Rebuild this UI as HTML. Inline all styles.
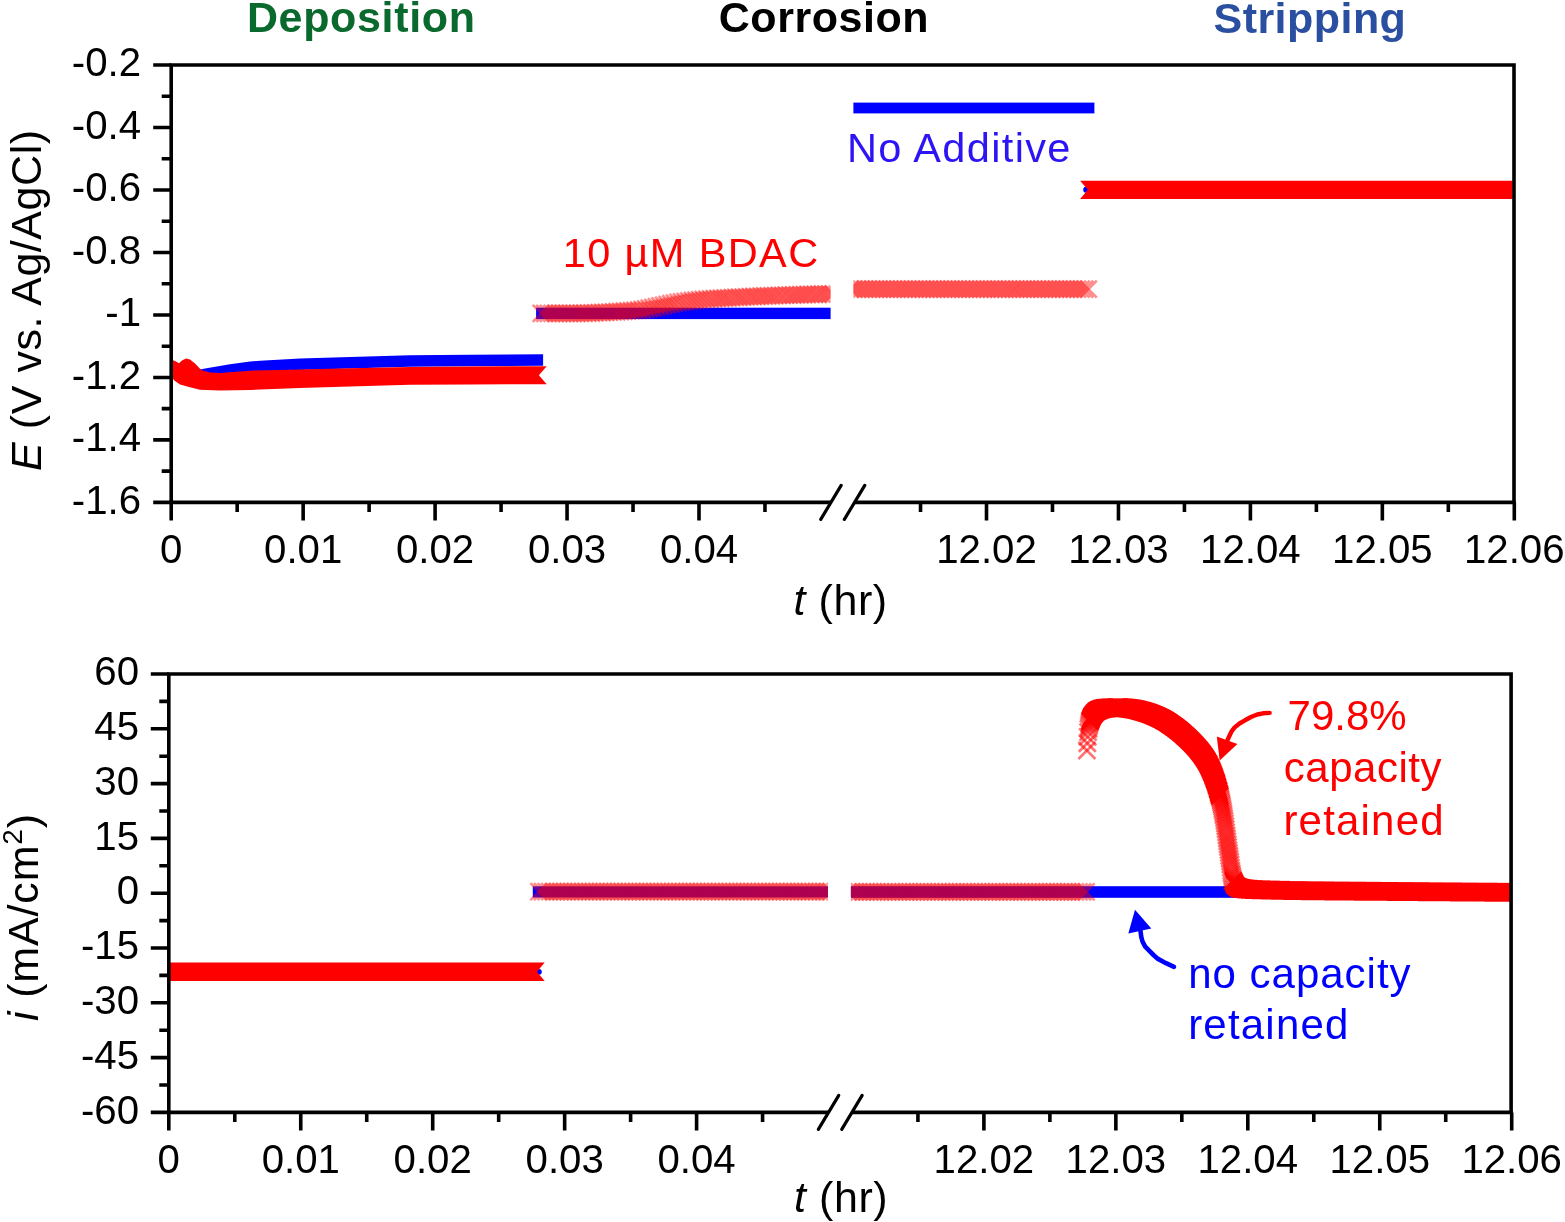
<!DOCTYPE html><html><head><meta charset="utf-8"><style>html,body{margin:0;padding:0;background:#fff;overflow:hidden;}svg{display:block;}text{font-family:"Liberation Sans", Arial, sans-serif;}</style></head><body>
<svg width="1565" height="1222" viewBox="0 0 1565 1222">
<rect width="1565" height="1222" fill="#fff"/>
<defs><clipPath id="ctl"><rect x="172" y="66" width="658.6" height="436"/></clipPath><clipPath id="ctr"><rect x="853.4" y="66" width="659.2" height="436"/></clipPath><clipPath id="cbl"><rect x="169.6" y="675" width="658.3" height="437"/></clipPath><clipPath id="cbr"><rect x="850.9" y="675" width="659.6" height="437"/></clipPath></defs>
<g clip-path="url(#ctl)">
<polygon points="185,372 195,370.5 205,368.6 230,364.2 250,361.5 260,360.7 300,358.6 350,357 410,355.3 470,354.7 543.1,354.3 543.1,365.8 470,366.2 410,366.8 350,368.5 300,370.1 260,372.2 250,373 230,375.7 205,380.1 195,382 185,383.5" fill="#0000ff"/>
<polygon points="166,359.7 171,359.7 175,361 179,363.3 182,360.5 186,358.4 190,359.5 195,363.5 201.5,370.2 210,372.4 220,373 250,370.7 300,369.4 350,368.2 410,367.1 470,366.5 546.7,366.2 538.9,375.2 546.7,384.2 470,384.4 410,384.8 350,386.4 300,388 260,389.5 250,390 220,390.6 200,389.7 190,387.2 180,384.6 175,381 171,377 166,375" fill="#ff0000"/>
<rect x="536.1" y="307.7" width="300" height="11.4" fill="#0000ff"/>
<g fill="none" stroke="#ff0000" stroke-width="2.6" stroke-opacity="0.45">
<path d="M532.7,304.9l17,17"/><path d="M549.7,304.9l-17,17"/>
<path d="M536.3,304.9l17,17"/><path d="M553.3,304.9l-17,17"/>
<path d="M539.9,304.9l17,17"/><path d="M556.9,304.9l-17,17"/>
<path d="M543.5,304.89l17,17"/><path d="M560.5,304.89l-17,17"/>
<path d="M547.1,304.89l17,17"/><path d="M564.1,304.89l-17,17"/>
<path d="M550.7,304.88l17,17"/><path d="M567.7,304.88l-17,17"/>
<path d="M554.3,304.87l17,17"/><path d="M571.3,304.87l-17,17"/>
<path d="M557.9,304.86l17,17"/><path d="M574.9,304.86l-17,17"/>
<path d="M561.5,304.85l17,17"/><path d="M578.5,304.85l-17,17"/>
<path d="M565.1,304.83l17,17"/><path d="M582.1,304.83l-17,17"/>
<path d="M568.7,304.81l17,17"/><path d="M585.7,304.81l-17,17"/>
<path d="M572.3,304.79l17,17"/><path d="M589.3,304.79l-17,17"/>
<path d="M575.9,304.73l17,17"/><path d="M592.9,304.73l-17,17"/>
<path d="M579.5,304.62l17,17"/><path d="M596.5,304.62l-17,17"/>
<path d="M583.1,304.48l17,17"/><path d="M600.1,304.48l-17,17"/>
<path d="M586.7,304.32l17,17"/><path d="M603.7,304.32l-17,17"/>
<path d="M590.3,304.15l17,17"/><path d="M607.3,304.15l-17,17"/>
<path d="M593.9,303.99l17,17"/><path d="M610.9,303.99l-17,17"/>
<path d="M597.5,303.82l17,17"/><path d="M614.5,303.82l-17,17"/>
<path d="M601.1,303.63l17,17"/><path d="M618.1,303.63l-17,17"/>
<path d="M604.7,303.43l17,17"/><path d="M621.7,303.43l-17,17"/>
<path d="M608.3,303.21l17,17"/><path d="M625.3,303.21l-17,17"/>
<path d="M611.9,302.97l17,17"/><path d="M628.9,302.97l-17,17"/>
<path d="M615.5,302.73l17,17"/><path d="M632.5,302.73l-17,17"/>
<path d="M619.1,302.47l17,17"/><path d="M636.1,302.47l-17,17"/>
<path d="M622.7,302.18l17,17"/><path d="M639.7,302.18l-17,17"/>
<path d="M626.3,301.85l17,17"/><path d="M643.3,301.85l-17,17"/>
<path d="M629.9,301.48l17,17"/><path d="M646.9,301.48l-17,17"/>
<path d="M633.5,301.04l17,17"/><path d="M650.5,301.04l-17,17"/>
<path d="M637.1,300.45l17,17"/><path d="M654.1,300.45l-17,17"/>
<path d="M640.7,299.75l17,17"/><path d="M657.7,299.75l-17,17"/>
<path d="M644.3,299l17,17"/><path d="M661.3,299l-17,17"/>
<path d="M647.9,298.23l17,17"/><path d="M664.9,298.23l-17,17"/>
<path d="M651.5,297.5l17,17"/><path d="M668.5,297.5l-17,17"/>
<path d="M655.1,296.78l17,17"/><path d="M672.1,296.78l-17,17"/>
<path d="M658.7,296.03l17,17"/><path d="M675.7,296.03l-17,17"/>
<path d="M662.3,295.28l17,17"/><path d="M679.3,295.28l-17,17"/>
<path d="M665.9,294.56l17,17"/><path d="M682.9,294.56l-17,17"/>
<path d="M669.5,293.92l17,17"/><path d="M686.5,293.92l-17,17"/>
<path d="M673.1,293.37l17,17"/><path d="M690.1,293.37l-17,17"/>
<path d="M676.7,292.86l17,17"/><path d="M693.7,292.86l-17,17"/>
<path d="M680.3,292.4l17,17"/><path d="M697.3,292.4l-17,17"/>
<path d="M683.9,291.97l17,17"/><path d="M700.9,291.97l-17,17"/>
<path d="M687.5,291.58l17,17"/><path d="M704.5,291.58l-17,17"/>
<path d="M691.1,291.24l17,17"/><path d="M708.1,291.24l-17,17"/>
<path d="M694.7,290.93l17,17"/><path d="M711.7,290.93l-17,17"/>
<path d="M698.3,290.66l17,17"/><path d="M715.3,290.66l-17,17"/>
<path d="M701.9,290.41l17,17"/><path d="M718.9,290.41l-17,17"/>
<path d="M705.5,290.17l17,17"/><path d="M722.5,290.17l-17,17"/>
<path d="M709.1,289.95l17,17"/><path d="M726.1,289.95l-17,17"/>
<path d="M712.7,289.73l17,17"/><path d="M729.7,289.73l-17,17"/>
<path d="M716.3,289.51l17,17"/><path d="M733.3,289.51l-17,17"/>
<path d="M719.9,289.31l17,17"/><path d="M736.9,289.31l-17,17"/>
<path d="M723.5,289.11l17,17"/><path d="M740.5,289.11l-17,17"/>
<path d="M727.1,288.92l17,17"/><path d="M744.1,288.92l-17,17"/>
<path d="M730.7,288.74l17,17"/><path d="M747.7,288.74l-17,17"/>
<path d="M734.3,288.56l17,17"/><path d="M751.3,288.56l-17,17"/>
<path d="M737.9,288.38l17,17"/><path d="M754.9,288.38l-17,17"/>
<path d="M741.5,288.2l17,17"/><path d="M758.5,288.2l-17,17"/>
<path d="M745.1,288.03l17,17"/><path d="M762.1,288.03l-17,17"/>
<path d="M748.7,287.85l17,17"/><path d="M765.7,287.85l-17,17"/>
<path d="M752.3,287.68l17,17"/><path d="M769.3,287.68l-17,17"/>
<path d="M755.9,287.52l17,17"/><path d="M772.9,287.52l-17,17"/>
<path d="M759.5,287.37l17,17"/><path d="M776.5,287.37l-17,17"/>
<path d="M763.1,287.22l17,17"/><path d="M780.1,287.22l-17,17"/>
<path d="M766.7,287.07l17,17"/><path d="M783.7,287.07l-17,17"/>
<path d="M770.3,286.94l17,17"/><path d="M787.3,286.94l-17,17"/>
<path d="M773.9,286.82l17,17"/><path d="M790.9,286.82l-17,17"/>
<path d="M777.5,286.7l17,17"/><path d="M794.5,286.7l-17,17"/>
<path d="M781.1,286.58l17,17"/><path d="M798.1,286.58l-17,17"/>
<path d="M784.7,286.46l17,17"/><path d="M801.7,286.46l-17,17"/>
<path d="M788.3,286.35l17,17"/><path d="M805.3,286.35l-17,17"/>
<path d="M791.9,286.24l17,17"/><path d="M808.9,286.24l-17,17"/>
<path d="M795.5,286.14l17,17"/><path d="M812.5,286.14l-17,17"/>
<path d="M799.1,286.03l17,17"/><path d="M816.1,286.03l-17,17"/>
<path d="M802.7,285.94l17,17"/><path d="M819.7,285.94l-17,17"/>
<path d="M806.3,285.85l17,17"/><path d="M823.3,285.85l-17,17"/>
<path d="M809.9,285.76l17,17"/><path d="M826.9,285.76l-17,17"/>
<path d="M813.5,285.68l17,17"/><path d="M830.5,285.68l-17,17"/>
<path d="M817.1,285.6l17,17"/><path d="M834.1,285.6l-17,17"/>
<path d="M820.7,285.53l17,17"/><path d="M837.7,285.53l-17,17"/>
<path d="M824.3,285.47l17,17"/><path d="M841.3,285.47l-17,17"/>
</g>
</g>
<g clip-path="url(#ctr)">
<rect x="850" y="102.6" width="244.4" height="10.8" fill="#0000ff"/>
<g fill="none" stroke="#ff0000" stroke-width="2.6" stroke-opacity="0.45">
<path d="M842.2,280.6l17,17"/><path d="M859.2,280.6l-17,17"/>
<path d="M845.8,280.6l17,17"/><path d="M862.8,280.6l-17,17"/>
<path d="M849.4,280.6l17,17"/><path d="M866.4,280.6l-17,17"/>
<path d="M853,280.6l17,17"/><path d="M870,280.6l-17,17"/>
<path d="M856.6,280.6l17,17"/><path d="M873.6,280.6l-17,17"/>
<path d="M860.2,280.6l17,17"/><path d="M877.2,280.6l-17,17"/>
<path d="M863.8,280.6l17,17"/><path d="M880.8,280.6l-17,17"/>
<path d="M867.4,280.6l17,17"/><path d="M884.4,280.6l-17,17"/>
<path d="M871,280.6l17,17"/><path d="M888,280.6l-17,17"/>
<path d="M874.6,280.6l17,17"/><path d="M891.6,280.6l-17,17"/>
<path d="M878.2,280.6l17,17"/><path d="M895.2,280.6l-17,17"/>
<path d="M881.8,280.6l17,17"/><path d="M898.8,280.6l-17,17"/>
<path d="M885.4,280.6l17,17"/><path d="M902.4,280.6l-17,17"/>
<path d="M889,280.6l17,17"/><path d="M906,280.6l-17,17"/>
<path d="M892.6,280.6l17,17"/><path d="M909.6,280.6l-17,17"/>
<path d="M896.2,280.6l17,17"/><path d="M913.2,280.6l-17,17"/>
<path d="M899.8,280.6l17,17"/><path d="M916.8,280.6l-17,17"/>
<path d="M903.4,280.6l17,17"/><path d="M920.4,280.6l-17,17"/>
<path d="M907,280.6l17,17"/><path d="M924,280.6l-17,17"/>
<path d="M910.6,280.6l17,17"/><path d="M927.6,280.6l-17,17"/>
<path d="M914.2,280.6l17,17"/><path d="M931.2,280.6l-17,17"/>
<path d="M917.8,280.6l17,17"/><path d="M934.8,280.6l-17,17"/>
<path d="M921.4,280.6l17,17"/><path d="M938.4,280.6l-17,17"/>
<path d="M925,280.6l17,17"/><path d="M942,280.6l-17,17"/>
<path d="M928.6,280.6l17,17"/><path d="M945.6,280.6l-17,17"/>
<path d="M932.2,280.6l17,17"/><path d="M949.2,280.6l-17,17"/>
<path d="M935.8,280.6l17,17"/><path d="M952.8,280.6l-17,17"/>
<path d="M939.4,280.6l17,17"/><path d="M956.4,280.6l-17,17"/>
<path d="M943,280.6l17,17"/><path d="M960,280.6l-17,17"/>
<path d="M946.6,280.6l17,17"/><path d="M963.6,280.6l-17,17"/>
<path d="M950.2,280.6l17,17"/><path d="M967.2,280.6l-17,17"/>
<path d="M953.8,280.6l17,17"/><path d="M970.8,280.6l-17,17"/>
<path d="M957.4,280.6l17,17"/><path d="M974.4,280.6l-17,17"/>
<path d="M961,280.6l17,17"/><path d="M978,280.6l-17,17"/>
<path d="M964.6,280.6l17,17"/><path d="M981.6,280.6l-17,17"/>
<path d="M968.2,280.6l17,17"/><path d="M985.2,280.6l-17,17"/>
<path d="M971.8,280.6l17,17"/><path d="M988.8,280.6l-17,17"/>
<path d="M975.4,280.6l17,17"/><path d="M992.4,280.6l-17,17"/>
<path d="M979,280.6l17,17"/><path d="M996,280.6l-17,17"/>
<path d="M982.6,280.6l17,17"/><path d="M999.6,280.6l-17,17"/>
<path d="M986.2,280.6l17,17"/><path d="M1003.2,280.6l-17,17"/>
<path d="M989.8,280.6l17,17"/><path d="M1006.8,280.6l-17,17"/>
<path d="M993.4,280.6l17,17"/><path d="M1010.4,280.6l-17,17"/>
<path d="M997,280.6l17,17"/><path d="M1014,280.6l-17,17"/>
<path d="M1000.6,280.6l17,17"/><path d="M1017.6,280.6l-17,17"/>
<path d="M1004.2,280.6l17,17"/><path d="M1021.2,280.6l-17,17"/>
<path d="M1007.8,280.6l17,17"/><path d="M1024.8,280.6l-17,17"/>
<path d="M1011.4,280.6l17,17"/><path d="M1028.4,280.6l-17,17"/>
<path d="M1015,280.6l17,17"/><path d="M1032,280.6l-17,17"/>
<path d="M1018.6,280.6l17,17"/><path d="M1035.6,280.6l-17,17"/>
<path d="M1022.2,280.6l17,17"/><path d="M1039.2,280.6l-17,17"/>
<path d="M1025.8,280.6l17,17"/><path d="M1042.8,280.6l-17,17"/>
<path d="M1029.4,280.6l17,17"/><path d="M1046.4,280.6l-17,17"/>
<path d="M1033,280.6l17,17"/><path d="M1050,280.6l-17,17"/>
<path d="M1036.6,280.6l17,17"/><path d="M1053.6,280.6l-17,17"/>
<path d="M1040.2,280.6l17,17"/><path d="M1057.2,280.6l-17,17"/>
<path d="M1043.8,280.6l17,17"/><path d="M1060.8,280.6l-17,17"/>
<path d="M1047.4,280.6l17,17"/><path d="M1064.4,280.6l-17,17"/>
<path d="M1051,280.6l17,17"/><path d="M1068,280.6l-17,17"/>
<path d="M1054.6,280.6l17,17"/><path d="M1071.6,280.6l-17,17"/>
<path d="M1058.2,280.6l17,17"/><path d="M1075.2,280.6l-17,17"/>
<path d="M1061.8,280.6l17,17"/><path d="M1078.8,280.6l-17,17"/>
<path d="M1065.4,280.6l17,17"/><path d="M1082.4,280.6l-17,17"/>
<path d="M1069,280.6l17,17"/><path d="M1086,280.6l-17,17"/>
<path d="M1072.6,280.6l17,17"/><path d="M1089.6,280.6l-17,17"/>
<path d="M1076.2,280.6l17,17"/><path d="M1093.2,280.6l-17,17"/>
<path d="M1079.8,280.6l17,17"/><path d="M1096.8,280.6l-17,17"/>
</g>
<circle cx="1086.2" cy="189.8" r="3" fill="#0000ff"/>
<polygon points="1080.1,199.05 1087.9,189.85 1080.1,180.65 1530,180.65 1530,199.05" fill="#ff0000"/>
</g>
<g clip-path="url(#cbl)">
<circle cx="538.9" cy="971.8" r="2.9" fill="#0000ff"/>
<polygon points="150,980.9 150,962.5 544.7,962.5 536.9,971.7 544.7,980.9" fill="#ff0000"/>
<rect x="532.8" y="886.3" width="300" height="11.2" fill="#0000ff"/>
<g fill="none" stroke="#ff0000" stroke-width="2.6" stroke-opacity="0.45">
<path d="M530.4,883.2l17,17"/><path d="M547.4,883.2l-17,17"/>
<path d="M534,883.2l17,17"/><path d="M551,883.2l-17,17"/>
<path d="M537.6,883.2l17,17"/><path d="M554.6,883.2l-17,17"/>
<path d="M541.2,883.2l17,17"/><path d="M558.2,883.2l-17,17"/>
<path d="M544.8,883.2l17,17"/><path d="M561.8,883.2l-17,17"/>
<path d="M548.4,883.2l17,17"/><path d="M565.4,883.2l-17,17"/>
<path d="M552,883.2l17,17"/><path d="M569,883.2l-17,17"/>
<path d="M555.6,883.2l17,17"/><path d="M572.6,883.2l-17,17"/>
<path d="M559.2,883.2l17,17"/><path d="M576.2,883.2l-17,17"/>
<path d="M562.8,883.2l17,17"/><path d="M579.8,883.2l-17,17"/>
<path d="M566.4,883.2l17,17"/><path d="M583.4,883.2l-17,17"/>
<path d="M570,883.2l17,17"/><path d="M587,883.2l-17,17"/>
<path d="M573.6,883.2l17,17"/><path d="M590.6,883.2l-17,17"/>
<path d="M577.2,883.2l17,17"/><path d="M594.2,883.2l-17,17"/>
<path d="M580.8,883.2l17,17"/><path d="M597.8,883.2l-17,17"/>
<path d="M584.4,883.2l17,17"/><path d="M601.4,883.2l-17,17"/>
<path d="M588,883.2l17,17"/><path d="M605,883.2l-17,17"/>
<path d="M591.6,883.2l17,17"/><path d="M608.6,883.2l-17,17"/>
<path d="M595.2,883.2l17,17"/><path d="M612.2,883.2l-17,17"/>
<path d="M598.8,883.2l17,17"/><path d="M615.8,883.2l-17,17"/>
<path d="M602.4,883.2l17,17"/><path d="M619.4,883.2l-17,17"/>
<path d="M606,883.2l17,17"/><path d="M623,883.2l-17,17"/>
<path d="M609.6,883.2l17,17"/><path d="M626.6,883.2l-17,17"/>
<path d="M613.2,883.2l17,17"/><path d="M630.2,883.2l-17,17"/>
<path d="M616.8,883.2l17,17"/><path d="M633.8,883.2l-17,17"/>
<path d="M620.4,883.2l17,17"/><path d="M637.4,883.2l-17,17"/>
<path d="M624,883.2l17,17"/><path d="M641,883.2l-17,17"/>
<path d="M627.6,883.2l17,17"/><path d="M644.6,883.2l-17,17"/>
<path d="M631.2,883.2l17,17"/><path d="M648.2,883.2l-17,17"/>
<path d="M634.8,883.2l17,17"/><path d="M651.8,883.2l-17,17"/>
<path d="M638.4,883.2l17,17"/><path d="M655.4,883.2l-17,17"/>
<path d="M642,883.2l17,17"/><path d="M659,883.2l-17,17"/>
<path d="M645.6,883.2l17,17"/><path d="M662.6,883.2l-17,17"/>
<path d="M649.2,883.2l17,17"/><path d="M666.2,883.2l-17,17"/>
<path d="M652.8,883.2l17,17"/><path d="M669.8,883.2l-17,17"/>
<path d="M656.4,883.2l17,17"/><path d="M673.4,883.2l-17,17"/>
<path d="M660,883.2l17,17"/><path d="M677,883.2l-17,17"/>
<path d="M663.6,883.2l17,17"/><path d="M680.6,883.2l-17,17"/>
<path d="M667.2,883.2l17,17"/><path d="M684.2,883.2l-17,17"/>
<path d="M670.8,883.2l17,17"/><path d="M687.8,883.2l-17,17"/>
<path d="M674.4,883.2l17,17"/><path d="M691.4,883.2l-17,17"/>
<path d="M678,883.2l17,17"/><path d="M695,883.2l-17,17"/>
<path d="M681.6,883.2l17,17"/><path d="M698.6,883.2l-17,17"/>
<path d="M685.2,883.2l17,17"/><path d="M702.2,883.2l-17,17"/>
<path d="M688.8,883.2l17,17"/><path d="M705.8,883.2l-17,17"/>
<path d="M692.4,883.2l17,17"/><path d="M709.4,883.2l-17,17"/>
<path d="M696,883.2l17,17"/><path d="M713,883.2l-17,17"/>
<path d="M699.6,883.2l17,17"/><path d="M716.6,883.2l-17,17"/>
<path d="M703.2,883.2l17,17"/><path d="M720.2,883.2l-17,17"/>
<path d="M706.8,883.2l17,17"/><path d="M723.8,883.2l-17,17"/>
<path d="M710.4,883.2l17,17"/><path d="M727.4,883.2l-17,17"/>
<path d="M714,883.2l17,17"/><path d="M731,883.2l-17,17"/>
<path d="M717.6,883.2l17,17"/><path d="M734.6,883.2l-17,17"/>
<path d="M721.2,883.2l17,17"/><path d="M738.2,883.2l-17,17"/>
<path d="M724.8,883.2l17,17"/><path d="M741.8,883.2l-17,17"/>
<path d="M728.4,883.2l17,17"/><path d="M745.4,883.2l-17,17"/>
<path d="M732,883.2l17,17"/><path d="M749,883.2l-17,17"/>
<path d="M735.6,883.2l17,17"/><path d="M752.6,883.2l-17,17"/>
<path d="M739.2,883.2l17,17"/><path d="M756.2,883.2l-17,17"/>
<path d="M742.8,883.2l17,17"/><path d="M759.8,883.2l-17,17"/>
<path d="M746.4,883.2l17,17"/><path d="M763.4,883.2l-17,17"/>
<path d="M750,883.2l17,17"/><path d="M767,883.2l-17,17"/>
<path d="M753.6,883.2l17,17"/><path d="M770.6,883.2l-17,17"/>
<path d="M757.2,883.2l17,17"/><path d="M774.2,883.2l-17,17"/>
<path d="M760.8,883.2l17,17"/><path d="M777.8,883.2l-17,17"/>
<path d="M764.4,883.2l17,17"/><path d="M781.4,883.2l-17,17"/>
<path d="M768,883.2l17,17"/><path d="M785,883.2l-17,17"/>
<path d="M771.6,883.2l17,17"/><path d="M788.6,883.2l-17,17"/>
<path d="M775.2,883.2l17,17"/><path d="M792.2,883.2l-17,17"/>
<path d="M778.8,883.2l17,17"/><path d="M795.8,883.2l-17,17"/>
<path d="M782.4,883.2l17,17"/><path d="M799.4,883.2l-17,17"/>
<path d="M786,883.2l17,17"/><path d="M803,883.2l-17,17"/>
<path d="M789.6,883.2l17,17"/><path d="M806.6,883.2l-17,17"/>
<path d="M793.2,883.2l17,17"/><path d="M810.2,883.2l-17,17"/>
<path d="M796.8,883.2l17,17"/><path d="M813.8,883.2l-17,17"/>
<path d="M800.4,883.2l17,17"/><path d="M817.4,883.2l-17,17"/>
<path d="M804,883.2l17,17"/><path d="M821,883.2l-17,17"/>
<path d="M807.6,883.2l17,17"/><path d="M824.6,883.2l-17,17"/>
<path d="M811.2,883.2l17,17"/><path d="M828.2,883.2l-17,17"/>
<path d="M814.8,883.2l17,17"/><path d="M831.8,883.2l-17,17"/>
<path d="M818.4,883.2l17,17"/><path d="M835.4,883.2l-17,17"/>
<path d="M822,883.2l17,17"/><path d="M839,883.2l-17,17"/>
</g>
</g>
<g clip-path="url(#cbr)">
<rect x="848" y="886.2" width="390" height="11.6" fill="#0000ff"/>
<g fill="none" stroke="#ff0000" stroke-width="2.6" stroke-opacity="0.45">
<path d="M840,883.3l17,17"/><path d="M857,883.3l-17,17"/>
<path d="M843.6,883.3l17,17"/><path d="M860.6,883.3l-17,17"/>
<path d="M847.2,883.3l17,17"/><path d="M864.2,883.3l-17,17"/>
<path d="M850.8,883.3l17,17"/><path d="M867.8,883.3l-17,17"/>
<path d="M854.4,883.3l17,17"/><path d="M871.4,883.3l-17,17"/>
<path d="M858,883.3l17,17"/><path d="M875,883.3l-17,17"/>
<path d="M861.6,883.3l17,17"/><path d="M878.6,883.3l-17,17"/>
<path d="M865.2,883.3l17,17"/><path d="M882.2,883.3l-17,17"/>
<path d="M868.8,883.3l17,17"/><path d="M885.8,883.3l-17,17"/>
<path d="M872.4,883.3l17,17"/><path d="M889.4,883.3l-17,17"/>
<path d="M876,883.3l17,17"/><path d="M893,883.3l-17,17"/>
<path d="M879.6,883.3l17,17"/><path d="M896.6,883.3l-17,17"/>
<path d="M883.2,883.3l17,17"/><path d="M900.2,883.3l-17,17"/>
<path d="M886.8,883.3l17,17"/><path d="M903.8,883.3l-17,17"/>
<path d="M890.4,883.3l17,17"/><path d="M907.4,883.3l-17,17"/>
<path d="M894,883.3l17,17"/><path d="M911,883.3l-17,17"/>
<path d="M897.6,883.3l17,17"/><path d="M914.6,883.3l-17,17"/>
<path d="M901.2,883.3l17,17"/><path d="M918.2,883.3l-17,17"/>
<path d="M904.8,883.3l17,17"/><path d="M921.8,883.3l-17,17"/>
<path d="M908.4,883.3l17,17"/><path d="M925.4,883.3l-17,17"/>
<path d="M912,883.3l17,17"/><path d="M929,883.3l-17,17"/>
<path d="M915.6,883.3l17,17"/><path d="M932.6,883.3l-17,17"/>
<path d="M919.2,883.3l17,17"/><path d="M936.2,883.3l-17,17"/>
<path d="M922.8,883.3l17,17"/><path d="M939.8,883.3l-17,17"/>
<path d="M926.4,883.3l17,17"/><path d="M943.4,883.3l-17,17"/>
<path d="M930,883.3l17,17"/><path d="M947,883.3l-17,17"/>
<path d="M933.6,883.3l17,17"/><path d="M950.6,883.3l-17,17"/>
<path d="M937.2,883.3l17,17"/><path d="M954.2,883.3l-17,17"/>
<path d="M940.8,883.3l17,17"/><path d="M957.8,883.3l-17,17"/>
<path d="M944.4,883.3l17,17"/><path d="M961.4,883.3l-17,17"/>
<path d="M948,883.3l17,17"/><path d="M965,883.3l-17,17"/>
<path d="M951.6,883.3l17,17"/><path d="M968.6,883.3l-17,17"/>
<path d="M955.2,883.3l17,17"/><path d="M972.2,883.3l-17,17"/>
<path d="M958.8,883.3l17,17"/><path d="M975.8,883.3l-17,17"/>
<path d="M962.4,883.3l17,17"/><path d="M979.4,883.3l-17,17"/>
<path d="M966,883.3l17,17"/><path d="M983,883.3l-17,17"/>
<path d="M969.6,883.3l17,17"/><path d="M986.6,883.3l-17,17"/>
<path d="M973.2,883.3l17,17"/><path d="M990.2,883.3l-17,17"/>
<path d="M976.8,883.3l17,17"/><path d="M993.8,883.3l-17,17"/>
<path d="M980.4,883.3l17,17"/><path d="M997.4,883.3l-17,17"/>
<path d="M984,883.3l17,17"/><path d="M1001,883.3l-17,17"/>
<path d="M987.6,883.3l17,17"/><path d="M1004.6,883.3l-17,17"/>
<path d="M991.2,883.3l17,17"/><path d="M1008.2,883.3l-17,17"/>
<path d="M994.8,883.3l17,17"/><path d="M1011.8,883.3l-17,17"/>
<path d="M998.4,883.3l17,17"/><path d="M1015.4,883.3l-17,17"/>
<path d="M1002,883.3l17,17"/><path d="M1019,883.3l-17,17"/>
<path d="M1005.6,883.3l17,17"/><path d="M1022.6,883.3l-17,17"/>
<path d="M1009.2,883.3l17,17"/><path d="M1026.2,883.3l-17,17"/>
<path d="M1012.8,883.3l17,17"/><path d="M1029.8,883.3l-17,17"/>
<path d="M1016.4,883.3l17,17"/><path d="M1033.4,883.3l-17,17"/>
<path d="M1020,883.3l17,17"/><path d="M1037,883.3l-17,17"/>
<path d="M1023.6,883.3l17,17"/><path d="M1040.6,883.3l-17,17"/>
<path d="M1027.2,883.3l17,17"/><path d="M1044.2,883.3l-17,17"/>
<path d="M1030.8,883.3l17,17"/><path d="M1047.8,883.3l-17,17"/>
<path d="M1034.4,883.3l17,17"/><path d="M1051.4,883.3l-17,17"/>
<path d="M1038,883.3l17,17"/><path d="M1055,883.3l-17,17"/>
<path d="M1041.6,883.3l17,17"/><path d="M1058.6,883.3l-17,17"/>
<path d="M1045.2,883.3l17,17"/><path d="M1062.2,883.3l-17,17"/>
<path d="M1048.8,883.3l17,17"/><path d="M1065.8,883.3l-17,17"/>
<path d="M1052.4,883.3l17,17"/><path d="M1069.4,883.3l-17,17"/>
<path d="M1056,883.3l17,17"/><path d="M1073,883.3l-17,17"/>
<path d="M1059.6,883.3l17,17"/><path d="M1076.6,883.3l-17,17"/>
<path d="M1063.2,883.3l17,17"/><path d="M1080.2,883.3l-17,17"/>
<path d="M1066.8,883.3l17,17"/><path d="M1083.8,883.3l-17,17"/>
<path d="M1070.4,883.3l17,17"/><path d="M1087.4,883.3l-17,17"/>
<path d="M1074,883.3l17,17"/><path d="M1091,883.3l-17,17"/>
<path d="M1077.6,883.3l17,17"/><path d="M1094.6,883.3l-17,17"/>
</g>
<path d="M1081.6,712.74l17,17m0,-17l-17,17M1082,711.5l17,17m0,-17l-17,17M1082.4,710.46l17,17m0,-17l-17,17M1082.8,709.52l17,17m0,-17l-17,17M1083.2,708.67l17,17m0,-17l-17,17M1083.6,707.91l17,17m0,-17l-17,17M1084,707.24l17,17m0,-17l-17,17M1084.4,706.64l17,17m0,-17l-17,17M1084.8,706.1l17,17m0,-17l-17,17M1085.2,705.58l17,17m0,-17l-17,17M1085.6,705.08l17,17m0,-17l-17,17M1086,704.62l17,17m0,-17l-17,17M1086.4,704.19l17,17m0,-17l-17,17M1086.8,703.79l17,17m0,-17l-17,17M1087.2,703.42l17,17m0,-17l-17,17M1087.6,703.09l17,17m0,-17l-17,17M1088,702.8l17,17m0,-17l-17,17M1088.4,702.55l17,17m0,-17l-17,17M1088.8,702.34l17,17m0,-17l-17,17M1089.2,702.14l17,17m0,-17l-17,17M1089.6,701.94l17,17m0,-17l-17,17M1090,701.75l17,17m0,-17l-17,17M1090.4,701.56l17,17m0,-17l-17,17M1090.8,701.39l17,17m0,-17l-17,17M1091.2,701.22l17,17m0,-17l-17,17M1091.6,701.06l17,17m0,-17l-17,17M1092,700.91l17,17m0,-17l-17,17M1092.4,700.76l17,17m0,-17l-17,17M1092.8,700.62l17,17m0,-17l-17,17M1093.2,700.5l17,17m0,-17l-17,17M1093.6,700.38l17,17m0,-17l-17,17M1094,700.27l17,17m0,-17l-17,17M1094.4,700.17l17,17m0,-17l-17,17M1094.8,700.08l17,17m0,-17l-17,17M1095.2,700l17,17m0,-17l-17,17M1095.6,699.92l17,17m0,-17l-17,17M1096,699.86l17,17m0,-17l-17,17M1096.4,699.81l17,17m0,-17l-17,17M1096.8,699.77l17,17m0,-17l-17,17M1097.2,699.72l17,17m0,-17l-17,17M1097.6,699.68l17,17m0,-17l-17,17M1098,699.64l17,17m0,-17l-17,17M1098.4,699.6l17,17m0,-17l-17,17M1098.8,699.56l17,17m0,-17l-17,17M1099.2,699.52l17,17m0,-17l-17,17M1099.6,699.49l17,17m0,-17l-17,17M1100,699.45l17,17m0,-17l-17,17M1100.4,699.42l17,17m0,-17l-17,17M1100.8,699.38l17,17m0,-17l-17,17M1101.2,699.35l17,17m0,-17l-17,17M1101.6,699.32l17,17m0,-17l-17,17M1102,699.29l17,17m0,-17l-17,17M1102.4,699.26l17,17m0,-17l-17,17M1102.8,699.23l17,17m0,-17l-17,17M1103.2,699.21l17,17m0,-17l-17,17M1103.6,699.18l17,17m0,-17l-17,17M1104,699.16l17,17m0,-17l-17,17M1104.4,699.14l17,17m0,-17l-17,17M1104.8,699.12l17,17m0,-17l-17,17M1105.2,699.1l17,17m0,-17l-17,17M1105.6,699.08l17,17m0,-17l-17,17M1106,699.07l17,17m0,-17l-17,17M1106.4,699.05l17,17m0,-17l-17,17M1106.8,699.04l17,17m0,-17l-17,17M1107.2,699.03l17,17m0,-17l-17,17M1107.6,699.02l17,17m0,-17l-17,17M1108,699.01l17,17m0,-17l-17,17M1108.4,699.01l17,17m0,-17l-17,17M1108.8,699l17,17m0,-17l-17,17M1109.2,699l17,17m0,-17l-17,17M1109.6,699l17,17m0,-17l-17,17M1110,699l17,17m0,-17l-17,17M1110.4,699.01l17,17m0,-17l-17,17M1110.8,699.02l17,17m0,-17l-17,17M1111.2,699.03l17,17m0,-17l-17,17M1111.6,699.04l17,17m0,-17l-17,17M1112,699.06l17,17m0,-17l-17,17M1112.4,699.08l17,17m0,-17l-17,17M1112.8,699.11l17,17m0,-17l-17,17M1113.2,699.13l17,17m0,-17l-17,17M1113.6,699.16l17,17m0,-17l-17,17M1114,699.19l17,17m0,-17l-17,17M1114.4,699.22l17,17m0,-17l-17,17M1114.8,699.26l17,17m0,-17l-17,17M1115.2,699.29l17,17m0,-17l-17,17M1115.6,699.33l17,17m0,-17l-17,17M1116,699.37l17,17m0,-17l-17,17M1116.4,699.41l17,17m0,-17l-17,17M1116.8,699.45l17,17m0,-17l-17,17M1117.2,699.49l17,17m0,-17l-17,17M1117.6,699.54l17,17m0,-17l-17,17M1118,699.58l17,17m0,-17l-17,17M1118.4,699.63l17,17m0,-17l-17,17M1118.8,699.68l17,17m0,-17l-17,17M1119.2,699.72l17,17m0,-17l-17,17M1119.6,699.77l17,17m0,-17l-17,17M1120,699.82l17,17m0,-17l-17,17M1120.4,699.87l17,17m0,-17l-17,17M1120.8,699.92l17,17m0,-17l-17,17M1121.2,699.96l17,17m0,-17l-17,17M1121.6,700.01l17,17m0,-17l-17,17M1122,700.06l17,17m0,-17l-17,17M1122.4,700.12l17,17m0,-17l-17,17M1122.8,700.17l17,17m0,-17l-17,17M1123.2,700.24l17,17m0,-17l-17,17M1123.6,700.3l17,17m0,-17l-17,17M1124,700.37l17,17m0,-17l-17,17M1124.4,700.44l17,17m0,-17l-17,17M1124.8,700.51l17,17m0,-17l-17,17M1125.2,700.58l17,17m0,-17l-17,17M1125.6,700.66l17,17m0,-17l-17,17M1126,700.74l17,17m0,-17l-17,17M1126.4,700.83l17,17m0,-17l-17,17M1126.8,700.91l17,17m0,-17l-17,17M1127.2,701l17,17m0,-17l-17,17M1127.6,701.09l17,17m0,-17l-17,17M1128,701.18l17,17m0,-17l-17,17M1128.4,701.28l17,17m0,-17l-17,17M1128.8,701.37l17,17m0,-17l-17,17M1129.2,701.47l17,17m0,-17l-17,17M1129.6,701.57l17,17m0,-17l-17,17M1130,701.68l17,17m0,-17l-17,17M1130.4,701.78l17,17m0,-17l-17,17M1130.8,701.88l17,17m0,-17l-17,17M1131.2,701.99l17,17m0,-17l-17,17M1131.6,702.1l17,17m0,-17l-17,17M1132,702.21l17,17m0,-17l-17,17M1132.4,702.32l17,17m0,-17l-17,17M1132.8,702.43l17,17m0,-17l-17,17M1133.2,702.54l17,17m0,-17l-17,17M1133.6,702.66l17,17m0,-17l-17,17M1134,702.77l17,17m0,-17l-17,17M1134.4,702.89l17,17m0,-17l-17,17M1134.8,703l17,17m0,-17l-17,17M1135.2,703.12l17,17m0,-17l-17,17M1135.6,703.24l17,17m0,-17l-17,17M1136,703.35l17,17m0,-17l-17,17M1136.4,703.47l17,17m0,-17l-17,17M1136.8,703.59l17,17m0,-17l-17,17M1137.2,703.71l17,17m0,-17l-17,17M1137.6,703.83l17,17m0,-17l-17,17M1138,703.96l17,17m0,-17l-17,17M1138.4,704.09l17,17m0,-17l-17,17M1138.8,704.22l17,17m0,-17l-17,17M1139.2,704.35l17,17m0,-17l-17,17M1139.6,704.49l17,17m0,-17l-17,17M1140,704.63l17,17m0,-17l-17,17M1140.4,704.77l17,17m0,-17l-17,17M1140.8,704.91l17,17m0,-17l-17,17M1141.2,705.06l17,17m0,-17l-17,17M1141.6,705.2l17,17m0,-17l-17,17M1142,705.35l17,17m0,-17l-17,17M1142.4,705.5l17,17m0,-17l-17,17M1142.8,705.66l17,17m0,-17l-17,17M1143.2,705.81l17,17m0,-17l-17,17M1143.6,705.97l17,17m0,-17l-17,17M1144,706.13l17,17m0,-17l-17,17M1144.4,706.3l17,17m0,-17l-17,17M1144.8,706.46l17,17m0,-17l-17,17M1145.2,706.63l17,17m0,-17l-17,17M1145.6,706.8l17,17m0,-17l-17,17M1146,706.97l17,17m0,-17l-17,17M1146.4,707.14l17,17m0,-17l-17,17M1146.8,707.31l17,17m0,-17l-17,17M1147.2,707.49l17,17m0,-17l-17,17M1147.6,707.67l17,17m0,-17l-17,17M1148,707.85l17,17m0,-17l-17,17M1148.4,708.03l17,17m0,-17l-17,17M1148.8,708.21l17,17m0,-17l-17,17M1149.2,708.4l17,17m0,-17l-17,17M1149.6,708.59l17,17m0,-17l-17,17M1150,708.78l17,17m0,-17l-17,17M1150.4,708.97l17,17m0,-17l-17,17M1150.8,709.16l17,17m0,-17l-17,17M1151.2,709.35l17,17m0,-17l-17,17M1151.6,709.55l17,17m0,-17l-17,17M1152,709.75l17,17m0,-17l-17,17M1152.4,709.95l17,17m0,-17l-17,17M1152.8,710.16l17,17m0,-17l-17,17M1153.2,710.37l17,17m0,-17l-17,17M1153.6,710.58l17,17m0,-17l-17,17M1154,710.8l17,17m0,-17l-17,17M1154.4,711.02l17,17m0,-17l-17,17M1154.8,711.25l17,17m0,-17l-17,17M1155.2,711.48l17,17m0,-17l-17,17M1155.6,711.71l17,17m0,-17l-17,17M1156,711.94l17,17m0,-17l-17,17M1156.4,712.18l17,17m0,-17l-17,17M1156.8,712.42l17,17m0,-17l-17,17M1157.2,712.66l17,17m0,-17l-17,17M1157.6,712.91l17,17m0,-17l-17,17M1158,713.16l17,17m0,-17l-17,17M1158.4,713.41l17,17m0,-17l-17,17M1158.8,713.67l17,17m0,-17l-17,17M1159.2,713.93l17,17m0,-17l-17,17M1159.6,714.19l17,17m0,-17l-17,17M1160,714.45l17,17m0,-17l-17,17M1160.4,714.71l17,17m0,-17l-17,17M1160.8,714.98l17,17m0,-17l-17,17M1161.2,715.25l17,17m0,-17l-17,17M1161.6,715.52l17,17m0,-17l-17,17M1162,715.8l17,17m0,-17l-17,17M1162.4,716.07l17,17m0,-17l-17,17M1162.8,716.35l17,17m0,-17l-17,17M1163.2,716.63l17,17m0,-17l-17,17M1163.6,716.91l17,17m0,-17l-17,17M1164,717.2l17,17m0,-17l-17,17M1164.4,717.48l17,17m0,-17l-17,17M1164.8,717.77l17,17m0,-17l-17,17M1165.2,718.06l17,17m0,-17l-17,17M1165.6,718.34l17,17m0,-17l-17,17M1166,718.63l17,17m0,-17l-17,17M1166.4,718.93l17,17m0,-17l-17,17M1166.8,719.22l17,17m0,-17l-17,17M1167.2,719.52l17,17m0,-17l-17,17M1167.6,719.82l17,17m0,-17l-17,17M1168,720.12l17,17m0,-17l-17,17M1168.4,720.43l17,17m0,-17l-17,17M1168.8,720.74l17,17m0,-17l-17,17M1169.2,721.05l17,17m0,-17l-17,17M1169.6,721.37l17,17m0,-17l-17,17M1170,721.69l17,17m0,-17l-17,17M1170.4,722.01l17,17m0,-17l-17,17M1170.8,722.33l17,17m0,-17l-17,17M1171.2,722.66l17,17m0,-17l-17,17M1171.6,722.99l17,17m0,-17l-17,17M1172,723.33l17,17m0,-17l-17,17M1172.4,723.66l17,17m0,-17l-17,17M1172.8,724l17,17m0,-17l-17,17M1173.2,724.35l17,17m0,-17l-17,17M1173.6,724.69l17,17m0,-17l-17,17M1174,725.04l17,17m0,-17l-17,17M1174.4,725.39l17,17m0,-17l-17,17M1174.8,725.74l17,17m0,-17l-17,17M1175.2,726.1l17,17m0,-17l-17,17M1175.6,726.46l17,17m0,-17l-17,17M1176,726.82l17,17m0,-17l-17,17M1176.4,727.18l17,17m0,-17l-17,17M1176.8,727.55l17,17m0,-17l-17,17M1177.2,727.91l17,17m0,-17l-17,17M1177.6,728.28l17,17m0,-17l-17,17M1178,728.65l17,17m0,-17l-17,17M1178.4,729.03l17,17m0,-17l-17,17M1178.8,729.41l17,17m0,-17l-17,17M1179.2,729.78l17,17m0,-17l-17,17M1179.6,730.16l17,17m0,-17l-17,17M1180,730.55l17,17m0,-17l-17,17M1180.4,730.93l17,17m0,-17l-17,17M1180.8,731.32l17,17m0,-17l-17,17M1181.2,731.71l17,17m0,-17l-17,17M1181.6,732.1l17,17m0,-17l-17,17M1182,732.49l17,17m0,-17l-17,17M1182.4,732.89l17,17m0,-17l-17,17M1182.8,733.29l17,17m0,-17l-17,17M1183.2,733.69l17,17m0,-17l-17,17M1183.6,734.1l17,17m0,-17l-17,17M1184,734.51l17,17m0,-17l-17,17M1184.4,734.92l17,17m0,-17l-17,17M1184.8,735.34l17,17m0,-17l-17,17M1185.2,735.76l17,17m0,-17l-17,17M1185.6,736.18l17,17m0,-17l-17,17M1186,736.61l17,17m0,-17l-17,17M1186.4,737.05l17,17m0,-17l-17,17M1186.8,737.49l17,17m0,-17l-17,17M1187.2,737.93l17,17m0,-17l-17,17M1187.6,738.38l17,17m0,-17l-17,17M1188,738.83l17,17m0,-17l-17,17M1188.4,739.28l17,17m0,-17l-17,17M1188.8,739.75l17,17m0,-17l-17,17M1189.2,740.21l17,17m0,-17l-17,17M1189.6,740.69l17,17m0,-17l-17,17M1190,741.16l17,17m0,-17l-17,17M1190.4,741.64l17,17m0,-17l-17,17M1190.8,742.13l17,17m0,-17l-17,17M1191.2,742.63l17,17m0,-17l-17,17M1191.6,743.13l17,17m0,-17l-17,17M1192,743.63l17,17m0,-17l-17,17M1192.4,744.14l17,17m0,-17l-17,17M1192.8,744.66l17,17m0,-17l-17,17M1193.2,745.19l17,17m0,-17l-17,17M1193.6,745.73l17,17m0,-17l-17,17M1194,746.27l17,17m0,-17l-17,17M1194.4,746.83l17,17m0,-17l-17,17M1194.8,747.39l17,17m0,-17l-17,17M1195.2,747.97l17,17m0,-17l-17,17M1195.6,748.55l17,17m0,-17l-17,17M1196,749.15l17,17m0,-17l-17,17M1196.4,749.76l17,17m0,-17l-17,17M1196.8,750.38l17,17m0,-17l-17,17M1197.2,751.02l17,17m0,-17l-17,17M1197.6,751.66l17,17m0,-17l-17,17M1198,752.33l17,17m0,-17l-17,17M1198.4,753.01l17,17m0,-17l-17,17M1198.8,753.72l17,17m0,-17l-17,17M1199.2,754.44l17,17m0,-17l-17,17M1199.6,755.19l17,17m0,-17l-17,17M1200,755.95l17,17m0,-17l-17,17M1200.4,756.74l17,17m0,-17l-17,17M1200.8,757.54l17,17m0,-17l-17,17M1201.2,758.37l17,17m0,-17l-17,17M1201.6,759.21l17,17m0,-17l-17,17M1202,760.08l17,17m0,-17l-17,17M1202.4,760.97l17,17m0,-17l-17,17M1202.8,761.89l17,17m0,-17l-17,17M1203.2,762.82l17,17m0,-17l-17,17M1203.6,763.78l17,17m0,-17l-17,17M1204,764.76l17,17m0,-17l-17,17M1204.4,765.77l17,17m0,-17l-17,17M1204.8,766.81l17,17m0,-17l-17,17M1205.2,767.87l17,17m0,-17l-17,17M1205.6,768.95l17,17m0,-17l-17,17M1206,770.07l17,17m0,-17l-17,17M1206.4,771.21l17,17m0,-17l-17,17M1206.8,772.38l17,17m0,-17l-17,17M1207.2,773.57l17,17m0,-17l-17,17M1207.6,774.79l17,17m0,-17l-17,17M1208,776.04l17,17m0,-17l-17,17M1208.4,777.32l17,17m0,-17l-17,17M1208.8,778.63l17,17m0,-17l-17,17M1209.2,779.98l17,17m0,-17l-17,17M1209.6,781.37l17,17m0,-17l-17,17M1210,782.79l17,17m0,-17l-17,17M1210.4,784.27l17,17m0,-17l-17,17M1210.8,785.79l17,17m0,-17l-17,17M1211.2,787.35l17,17m0,-17l-17,17M1224.8,872.41l17,17m0,-17l-17,17M1225.2,873.52l17,17m0,-17l-17,17M1225.6,874.48l17,17m0,-17l-17,17M1226,875.34l17,17m0,-17l-17,17M1226.4,876.08l17,17m0,-17l-17,17M1226.8,876.71l17,17m0,-17l-17,17M1227.2,877.21l17,17m0,-17l-17,17M1227.6,877.58l17,17m0,-17l-17,17M1228,877.89l17,17m0,-17l-17,17M1228.4,878.17l17,17m0,-17l-17,17M1228.8,878.42l17,17m0,-17l-17,17M1229.2,878.64l17,17m0,-17l-17,17M1229.6,878.84l17,17m0,-17l-17,17M1230,879.02l17,17m0,-17l-17,17M1230.4,879.18l17,17m0,-17l-17,17M1230.8,879.31l17,17m0,-17l-17,17M1231.2,879.43l17,17m0,-17l-17,17M1231.6,879.52l17,17m0,-17l-17,17M1232,879.61l17,17m0,-17l-17,17M1232.4,879.69l17,17m0,-17l-17,17M1232.8,879.77l17,17m0,-17l-17,17M1233.2,879.85l17,17m0,-17l-17,17M1233.6,879.92l17,17m0,-17l-17,17M1234,879.99l17,17m0,-17l-17,17M1234.4,880.06l17,17m0,-17l-17,17M1234.8,880.12l17,17m0,-17l-17,17M1235.2,880.18l17,17m0,-17l-17,17M1235.6,880.24l17,17m0,-17l-17,17M1236,880.29l17,17m0,-17l-17,17M1236.4,880.35l17,17m0,-17l-17,17M1236.8,880.39l17,17m0,-17l-17,17M1237.2,880.44l17,17m0,-17l-17,17M1237.6,880.48l17,17m0,-17l-17,17M1238,880.53l17,17m0,-17l-17,17M1238.4,880.57l17,17m0,-17l-17,17M1238.8,880.6l17,17m0,-17l-17,17M1239.2,880.64l17,17m0,-17l-17,17M1239.6,880.67l17,17m0,-17l-17,17M1240,880.7l17,17m0,-17l-17,17M1240.4,880.73l17,17m0,-17l-17,17M1240.8,880.76l17,17m0,-17l-17,17M1241.2,880.78l17,17m0,-17l-17,17M1241.6,880.81l17,17m0,-17l-17,17M1242,880.83l17,17m0,-17l-17,17M1242.4,880.85l17,17m0,-17l-17,17M1242.8,880.87l17,17m0,-17l-17,17M1243.2,880.89l17,17m0,-17l-17,17M1243.6,880.92l17,17m0,-17l-17,17M1244,880.94l17,17m0,-17l-17,17M1244.4,880.96l17,17m0,-17l-17,17M1244.8,880.97l17,17m0,-17l-17,17M1245.2,880.99l17,17m0,-17l-17,17M1245.6,881.01l17,17m0,-17l-17,17M1246,881.03l17,17m0,-17l-17,17M1246.4,881.05l17,17m0,-17l-17,17M1246.8,881.06l17,17m0,-17l-17,17M1247.2,881.08l17,17m0,-17l-17,17M1247.6,881.1l17,17m0,-17l-17,17M1248,881.11l17,17m0,-17l-17,17M1248.4,881.13l17,17m0,-17l-17,17M1248.8,881.14l17,17m0,-17l-17,17M1249.2,881.16l17,17m0,-17l-17,17M1249.6,881.17l17,17m0,-17l-17,17M1250,881.18l17,17m0,-17l-17,17M1250.4,881.2l17,17m0,-17l-17,17M1250.8,881.21l17,17m0,-17l-17,17M1251.2,881.22l17,17m0,-17l-17,17M1251.6,881.24l17,17m0,-17l-17,17M1252,881.25l17,17m0,-17l-17,17M1252.4,881.26l17,17m0,-17l-17,17M1252.8,881.27l17,17m0,-17l-17,17M1253.2,881.28l17,17m0,-17l-17,17M1253.6,881.29l17,17m0,-17l-17,17M1254,881.31l17,17m0,-17l-17,17M1254.4,881.32l17,17m0,-17l-17,17M1254.8,881.33l17,17m0,-17l-17,17M1255.2,881.34l17,17m0,-17l-17,17M1255.6,881.35l17,17m0,-17l-17,17M1256,881.36l17,17m0,-17l-17,17M1256.4,881.37l17,17m0,-17l-17,17M1256.8,881.38l17,17m0,-17l-17,17M1257.2,881.39l17,17m0,-17l-17,17M1257.6,881.4l17,17m0,-17l-17,17M1258,881.41l17,17m0,-17l-17,17M1258.4,881.42l17,17m0,-17l-17,17M1258.8,881.43l17,17m0,-17l-17,17M1259.2,881.44l17,17m0,-17l-17,17M1259.6,881.45l17,17m0,-17l-17,17M1260,881.46l17,17m0,-17l-17,17M1260.4,881.47l17,17m0,-17l-17,17M1260.8,881.48l17,17m0,-17l-17,17M1261.2,881.49l17,17m0,-17l-17,17M1261.6,881.5l17,17m0,-17l-17,17M1262,881.51l17,17m0,-17l-17,17M1262.4,881.52l17,17m0,-17l-17,17M1262.8,881.53l17,17m0,-17l-17,17M1263.2,881.54l17,17m0,-17l-17,17M1263.6,881.55l17,17m0,-17l-17,17M1264,881.56l17,17m0,-17l-17,17M1264.4,881.57l17,17m0,-17l-17,17M1264.8,881.58l17,17m0,-17l-17,17M1265.2,881.59l17,17m0,-17l-17,17M1265.6,881.6l17,17m0,-17l-17,17M1266,881.61l17,17m0,-17l-17,17M1266.4,881.62l17,17m0,-17l-17,17M1266.8,881.63l17,17m0,-17l-17,17M1267.2,881.64l17,17m0,-17l-17,17M1267.6,881.65l17,17m0,-17l-17,17M1268,881.66l17,17m0,-17l-17,17M1268.4,881.67l17,17m0,-17l-17,17M1268.8,881.68l17,17m0,-17l-17,17M1269.2,881.69l17,17m0,-17l-17,17M1269.6,881.7l17,17m0,-17l-17,17M1270,881.71l17,17m0,-17l-17,17M1270.4,881.72l17,17m0,-17l-17,17M1270.8,881.73l17,17m0,-17l-17,17M1271.2,881.73l17,17m0,-17l-17,17M1271.6,881.74l17,17m0,-17l-17,17M1272,881.75l17,17m0,-17l-17,17M1272.4,881.76l17,17m0,-17l-17,17M1272.8,881.77l17,17m0,-17l-17,17M1273.2,881.78l17,17m0,-17l-17,17M1273.6,881.79l17,17m0,-17l-17,17M1274,881.8l17,17m0,-17l-17,17M1274.4,881.8l17,17m0,-17l-17,17M1274.8,881.81l17,17m0,-17l-17,17M1275.2,881.82l17,17m0,-17l-17,17M1275.6,881.83l17,17m0,-17l-17,17M1276,881.84l17,17m0,-17l-17,17M1276.4,881.85l17,17m0,-17l-17,17M1276.8,881.85l17,17m0,-17l-17,17M1277.2,881.86l17,17m0,-17l-17,17M1277.6,881.87l17,17m0,-17l-17,17M1278,881.88l17,17m0,-17l-17,17M1278.4,881.88l17,17m0,-17l-17,17M1278.8,881.89l17,17m0,-17l-17,17M1279.2,881.9l17,17m0,-17l-17,17M1279.6,881.91l17,17m0,-17l-17,17M1280,881.92l17,17m0,-17l-17,17M1280.4,881.92l17,17m0,-17l-17,17M1280.8,881.93l17,17m0,-17l-17,17M1281.2,881.94l17,17m0,-17l-17,17M1281.6,881.94l17,17m0,-17l-17,17M1282,881.95l17,17m0,-17l-17,17M1282.4,881.96l17,17m0,-17l-17,17M1282.8,881.97l17,17m0,-17l-17,17M1283.2,881.97l17,17m0,-17l-17,17M1283.6,881.98l17,17m0,-17l-17,17M1284,881.99l17,17m0,-17l-17,17M1284.4,881.99l17,17m0,-17l-17,17M1284.8,882l17,17m0,-17l-17,17M1285.2,882.01l17,17m0,-17l-17,17M1285.6,882.01l17,17m0,-17l-17,17M1286,882.02l17,17m0,-17l-17,17M1286.4,882.03l17,17m0,-17l-17,17M1286.8,882.03l17,17m0,-17l-17,17M1287.2,882.04l17,17m0,-17l-17,17M1287.6,882.04l17,17m0,-17l-17,17M1288,882.05l17,17m0,-17l-17,17M1288.4,882.06l17,17m0,-17l-17,17M1288.8,882.06l17,17m0,-17l-17,17M1289.2,882.07l17,17m0,-17l-17,17M1289.6,882.07l17,17m0,-17l-17,17M1290,882.08l17,17m0,-17l-17,17M1290.4,882.09l17,17m0,-17l-17,17M1290.8,882.09l17,17m0,-17l-17,17M1291.2,882.1l17,17m0,-17l-17,17M1291.6,882.1l17,17m0,-17l-17,17M1292,882.11l17,17m0,-17l-17,17M1292.4,882.11l17,17m0,-17l-17,17M1292.8,882.12l17,17m0,-17l-17,17M1293.2,882.12l17,17m0,-17l-17,17M1293.6,882.13l17,17m0,-17l-17,17M1294,882.13l17,17m0,-17l-17,17M1294.4,882.14l17,17m0,-17l-17,17M1294.8,882.14l17,17m0,-17l-17,17M1295.2,882.15l17,17m0,-17l-17,17M1295.6,882.15l17,17m0,-17l-17,17M1296,882.16l17,17m0,-17l-17,17M1296.4,882.16l17,17m0,-17l-17,17M1296.8,882.17l17,17m0,-17l-17,17M1297.2,882.17l17,17m0,-17l-17,17M1297.6,882.18l17,17m0,-17l-17,17M1298,882.18l17,17m0,-17l-17,17M1298.4,882.19l17,17m0,-17l-17,17M1298.8,882.19l17,17m0,-17l-17,17M1299.2,882.2l17,17m0,-17l-17,17M1299.6,882.2l17,17m0,-17l-17,17M1300,882.21l17,17m0,-17l-17,17M1300.4,882.21l17,17m0,-17l-17,17M1300.8,882.22l17,17m0,-17l-17,17M1301.2,882.22l17,17m0,-17l-17,17M1301.6,882.23l17,17m0,-17l-17,17M1302,882.23l17,17m0,-17l-17,17M1302.4,882.24l17,17m0,-17l-17,17M1302.8,882.24l17,17m0,-17l-17,17M1303.2,882.25l17,17m0,-17l-17,17M1303.6,882.25l17,17m0,-17l-17,17M1304,882.25l17,17m0,-17l-17,17M1304.4,882.26l17,17m0,-17l-17,17M1304.8,882.26l17,17m0,-17l-17,17M1305.2,882.27l17,17m0,-17l-17,17M1305.6,882.27l17,17m0,-17l-17,17M1306,882.28l17,17m0,-17l-17,17M1306.4,882.28l17,17m0,-17l-17,17M1306.8,882.29l17,17m0,-17l-17,17M1307.2,882.29l17,17m0,-17l-17,17M1307.6,882.3l17,17m0,-17l-17,17M1308,882.3l17,17m0,-17l-17,17M1308.4,882.3l17,17m0,-17l-17,17M1308.8,882.31l17,17m0,-17l-17,17M1309.2,882.31l17,17m0,-17l-17,17M1309.6,882.32l17,17m0,-17l-17,17M1310,882.32l17,17m0,-17l-17,17M1310.4,882.33l17,17m0,-17l-17,17M1310.8,882.33l17,17m0,-17l-17,17M1311.2,882.33l17,17m0,-17l-17,17M1311.6,882.34l17,17m0,-17l-17,17M1312,882.34l17,17m0,-17l-17,17M1312.4,882.35l17,17m0,-17l-17,17M1312.8,882.35l17,17m0,-17l-17,17M1313.2,882.36l17,17m0,-17l-17,17M1313.6,882.36l17,17m0,-17l-17,17M1314,882.36l17,17m0,-17l-17,17M1314.4,882.37l17,17m0,-17l-17,17M1314.8,882.37l17,17m0,-17l-17,17M1315.2,882.38l17,17m0,-17l-17,17M1315.6,882.38l17,17m0,-17l-17,17M1316,882.38l17,17m0,-17l-17,17M1316.4,882.39l17,17m0,-17l-17,17M1316.8,882.39l17,17m0,-17l-17,17M1317.2,882.4l17,17m0,-17l-17,17M1317.6,882.4l17,17m0,-17l-17,17M1318,882.4l17,17m0,-17l-17,17M1318.4,882.41l17,17m0,-17l-17,17M1318.8,882.41l17,17m0,-17l-17,17M1319.2,882.42l17,17m0,-17l-17,17M1319.6,882.42l17,17m0,-17l-17,17M1320,882.42l17,17m0,-17l-17,17M1320.4,882.43l17,17m0,-17l-17,17M1320.8,882.43l17,17m0,-17l-17,17M1321.2,882.44l17,17m0,-17l-17,17M1321.6,882.44l17,17m0,-17l-17,17M1322,882.44l17,17m0,-17l-17,17M1322.4,882.45l17,17m0,-17l-17,17M1322.8,882.45l17,17m0,-17l-17,17M1323.2,882.45l17,17m0,-17l-17,17M1323.6,882.46l17,17m0,-17l-17,17M1324,882.46l17,17m0,-17l-17,17M1324.4,882.47l17,17m0,-17l-17,17M1324.8,882.47l17,17m0,-17l-17,17M1325.2,882.47l17,17m0,-17l-17,17M1325.6,882.48l17,17m0,-17l-17,17M1326,882.48l17,17m0,-17l-17,17M1326.4,882.48l17,17m0,-17l-17,17M1326.8,882.49l17,17m0,-17l-17,17M1327.2,882.49l17,17m0,-17l-17,17M1327.6,882.5l17,17m0,-17l-17,17M1328,882.5l17,17m0,-17l-17,17M1328.4,882.5l17,17m0,-17l-17,17M1328.8,882.51l17,17m0,-17l-17,17M1329.2,882.51l17,17m0,-17l-17,17M1329.6,882.51l17,17m0,-17l-17,17M1330,882.52l17,17m0,-17l-17,17M1330.4,882.52l17,17m0,-17l-17,17M1330.8,882.52l17,17m0,-17l-17,17M1331.2,882.53l17,17m0,-17l-17,17M1331.6,882.53l17,17m0,-17l-17,17M1332,882.53l17,17m0,-17l-17,17M1332.4,882.54l17,17m0,-17l-17,17M1332.8,882.54l17,17m0,-17l-17,17M1333.2,882.54l17,17m0,-17l-17,17M1333.6,882.55l17,17m0,-17l-17,17M1334,882.55l17,17m0,-17l-17,17M1334.4,882.55l17,17m0,-17l-17,17M1334.8,882.56l17,17m0,-17l-17,17M1335.2,882.56l17,17m0,-17l-17,17M1335.6,882.57l17,17m0,-17l-17,17M1336,882.57l17,17m0,-17l-17,17M1336.4,882.57l17,17m0,-17l-17,17M1336.8,882.58l17,17m0,-17l-17,17M1337.2,882.58l17,17m0,-17l-17,17M1337.6,882.58l17,17m0,-17l-17,17M1338,882.59l17,17m0,-17l-17,17M1338.4,882.59l17,17m0,-17l-17,17M1338.8,882.59l17,17m0,-17l-17,17M1339.2,882.6l17,17m0,-17l-17,17M1339.6,882.6l17,17m0,-17l-17,17M1340,882.6l17,17m0,-17l-17,17M1340.4,882.6l17,17m0,-17l-17,17M1340.8,882.61l17,17m0,-17l-17,17M1341.2,882.61l17,17m0,-17l-17,17M1341.6,882.61l17,17m0,-17l-17,17M1342,882.62l17,17m0,-17l-17,17M1342.4,882.62l17,17m0,-17l-17,17M1342.8,882.62l17,17m0,-17l-17,17M1343.2,882.63l17,17m0,-17l-17,17M1343.6,882.63l17,17m0,-17l-17,17M1344,882.63l17,17m0,-17l-17,17M1344.4,882.64l17,17m0,-17l-17,17M1344.8,882.64l17,17m0,-17l-17,17M1345.2,882.64l17,17m0,-17l-17,17M1345.6,882.65l17,17m0,-17l-17,17M1346,882.65l17,17m0,-17l-17,17M1346.4,882.65l17,17m0,-17l-17,17M1346.8,882.66l17,17m0,-17l-17,17M1347.2,882.66l17,17m0,-17l-17,17M1347.6,882.66l17,17m0,-17l-17,17M1348,882.67l17,17m0,-17l-17,17M1348.4,882.67l17,17m0,-17l-17,17M1348.8,882.67l17,17m0,-17l-17,17M1349.2,882.68l17,17m0,-17l-17,17M1349.6,882.68l17,17m0,-17l-17,17M1350,882.68l17,17m0,-17l-17,17M1350.4,882.68l17,17m0,-17l-17,17M1350.8,882.69l17,17m0,-17l-17,17M1351.2,882.69l17,17m0,-17l-17,17M1351.6,882.69l17,17m0,-17l-17,17M1352,882.7l17,17m0,-17l-17,17M1352.4,882.7l17,17m0,-17l-17,17M1352.8,882.7l17,17m0,-17l-17,17M1353.2,882.71l17,17m0,-17l-17,17M1353.6,882.71l17,17m0,-17l-17,17M1354,882.71l17,17m0,-17l-17,17M1354.4,882.72l17,17m0,-17l-17,17M1354.8,882.72l17,17m0,-17l-17,17M1355.2,882.72l17,17m0,-17l-17,17M1355.6,882.72l17,17m0,-17l-17,17M1356,882.73l17,17m0,-17l-17,17M1356.4,882.73l17,17m0,-17l-17,17M1356.8,882.73l17,17m0,-17l-17,17M1357.2,882.74l17,17m0,-17l-17,17M1357.6,882.74l17,17m0,-17l-17,17M1358,882.74l17,17m0,-17l-17,17M1358.4,882.75l17,17m0,-17l-17,17M1358.8,882.75l17,17m0,-17l-17,17M1359.2,882.75l17,17m0,-17l-17,17M1359.6,882.75l17,17m0,-17l-17,17M1360,882.76l17,17m0,-17l-17,17M1360.4,882.76l17,17m0,-17l-17,17M1360.8,882.76l17,17m0,-17l-17,17M1361.2,882.77l17,17m0,-17l-17,17M1361.6,882.77l17,17m0,-17l-17,17M1362,882.77l17,17m0,-17l-17,17M1362.4,882.78l17,17m0,-17l-17,17M1362.8,882.78l17,17m0,-17l-17,17M1363.2,882.78l17,17m0,-17l-17,17M1363.6,882.78l17,17m0,-17l-17,17M1364,882.79l17,17m0,-17l-17,17M1364.4,882.79l17,17m0,-17l-17,17M1364.8,882.79l17,17m0,-17l-17,17M1365.2,882.8l17,17m0,-17l-17,17M1365.6,882.8l17,17m0,-17l-17,17M1366,882.8l17,17m0,-17l-17,17M1366.4,882.81l17,17m0,-17l-17,17M1366.8,882.81l17,17m0,-17l-17,17M1367.2,882.81l17,17m0,-17l-17,17M1367.6,882.81l17,17m0,-17l-17,17M1368,882.82l17,17m0,-17l-17,17M1368.4,882.82l17,17m0,-17l-17,17M1368.8,882.82l17,17m0,-17l-17,17M1369.2,882.83l17,17m0,-17l-17,17M1369.6,882.83l17,17m0,-17l-17,17M1370,882.83l17,17m0,-17l-17,17M1370.4,882.84l17,17m0,-17l-17,17M1370.8,882.84l17,17m0,-17l-17,17M1371.2,882.84l17,17m0,-17l-17,17M1371.6,882.84l17,17m0,-17l-17,17M1372,882.85l17,17m0,-17l-17,17M1372.4,882.85l17,17m0,-17l-17,17M1372.8,882.85l17,17m0,-17l-17,17M1373.2,882.86l17,17m0,-17l-17,17M1373.6,882.86l17,17m0,-17l-17,17M1374,882.86l17,17m0,-17l-17,17M1374.4,882.87l17,17m0,-17l-17,17M1374.8,882.87l17,17m0,-17l-17,17M1375.2,882.87l17,17m0,-17l-17,17M1375.6,882.88l17,17m0,-17l-17,17M1376,882.88l17,17m0,-17l-17,17M1376.4,882.88l17,17m0,-17l-17,17M1376.8,882.88l17,17m0,-17l-17,17M1377.2,882.89l17,17m0,-17l-17,17M1377.6,882.89l17,17m0,-17l-17,17M1378,882.89l17,17m0,-17l-17,17M1378.4,882.9l17,17m0,-17l-17,17M1378.8,882.9l17,17m0,-17l-17,17M1379.2,882.9l17,17m0,-17l-17,17M1379.6,882.91l17,17m0,-17l-17,17M1380,882.91l17,17m0,-17l-17,17M1380.4,882.91l17,17m0,-17l-17,17M1380.8,882.91l17,17m0,-17l-17,17M1381.2,882.92l17,17m0,-17l-17,17M1381.6,882.92l17,17m0,-17l-17,17M1382,882.92l17,17m0,-17l-17,17M1382.4,882.93l17,17m0,-17l-17,17M1382.8,882.93l17,17m0,-17l-17,17M1383.2,882.93l17,17m0,-17l-17,17M1383.6,882.94l17,17m0,-17l-17,17M1384,882.94l17,17m0,-17l-17,17M1384.4,882.94l17,17m0,-17l-17,17M1384.8,882.95l17,17m0,-17l-17,17M1385.2,882.95l17,17m0,-17l-17,17M1385.6,882.95l17,17m0,-17l-17,17M1386,882.96l17,17m0,-17l-17,17M1386.4,882.96l17,17m0,-17l-17,17M1386.8,882.96l17,17m0,-17l-17,17M1387.2,882.97l17,17m0,-17l-17,17M1387.6,882.97l17,17m0,-17l-17,17M1388,882.97l17,17m0,-17l-17,17M1388.4,882.97l17,17m0,-17l-17,17M1388.8,882.98l17,17m0,-17l-17,17M1389.2,882.98l17,17m0,-17l-17,17M1389.6,882.98l17,17m0,-17l-17,17M1390,882.99l17,17m0,-17l-17,17M1390.4,882.99l17,17m0,-17l-17,17M1390.8,882.99l17,17m0,-17l-17,17M1391.2,883l17,17m0,-17l-17,17M1391.6,883l17,17m0,-17l-17,17M1392,883l17,17m0,-17l-17,17M1392.4,883.01l17,17m0,-17l-17,17M1392.8,883.01l17,17m0,-17l-17,17M1393.2,883.01l17,17m0,-17l-17,17M1393.6,883.02l17,17m0,-17l-17,17M1394,883.02l17,17m0,-17l-17,17M1394.4,883.02l17,17m0,-17l-17,17M1394.8,883.03l17,17m0,-17l-17,17M1395.2,883.03l17,17m0,-17l-17,17M1395.6,883.03l17,17m0,-17l-17,17M1396,883.04l17,17m0,-17l-17,17M1396.4,883.04l17,17m0,-17l-17,17M1396.8,883.04l17,17m0,-17l-17,17M1397.2,883.05l17,17m0,-17l-17,17M1397.6,883.05l17,17m0,-17l-17,17M1398,883.05l17,17m0,-17l-17,17M1398.4,883.06l17,17m0,-17l-17,17M1398.8,883.06l17,17m0,-17l-17,17M1399.2,883.06l17,17m0,-17l-17,17M1399.6,883.07l17,17m0,-17l-17,17M1400,883.07l17,17m0,-17l-17,17M1400.4,883.07l17,17m0,-17l-17,17M1400.8,883.08l17,17m0,-17l-17,17M1401.2,883.08l17,17m0,-17l-17,17M1401.6,883.08l17,17m0,-17l-17,17M1402,883.09l17,17m0,-17l-17,17M1402.4,883.09l17,17m0,-17l-17,17M1402.8,883.09l17,17m0,-17l-17,17M1403.2,883.1l17,17m0,-17l-17,17M1403.6,883.1l17,17m0,-17l-17,17M1404,883.1l17,17m0,-17l-17,17M1404.4,883.11l17,17m0,-17l-17,17M1404.8,883.11l17,17m0,-17l-17,17M1405.2,883.11l17,17m0,-17l-17,17M1405.6,883.11l17,17m0,-17l-17,17M1406,883.12l17,17m0,-17l-17,17M1406.4,883.12l17,17m0,-17l-17,17M1406.8,883.12l17,17m0,-17l-17,17M1407.2,883.13l17,17m0,-17l-17,17M1407.6,883.13l17,17m0,-17l-17,17M1408,883.13l17,17m0,-17l-17,17M1408.4,883.14l17,17m0,-17l-17,17M1408.8,883.14l17,17m0,-17l-17,17M1409.2,883.14l17,17m0,-17l-17,17M1409.6,883.15l17,17m0,-17l-17,17M1410,883.15l17,17m0,-17l-17,17M1410.4,883.15l17,17m0,-17l-17,17M1410.8,883.16l17,17m0,-17l-17,17M1411.2,883.16l17,17m0,-17l-17,17M1411.6,883.16l17,17m0,-17l-17,17M1412,883.17l17,17m0,-17l-17,17M1412.4,883.17l17,17m0,-17l-17,17M1412.8,883.17l17,17m0,-17l-17,17M1413.2,883.18l17,17m0,-17l-17,17M1413.6,883.18l17,17m0,-17l-17,17M1414,883.18l17,17m0,-17l-17,17M1414.4,883.19l17,17m0,-17l-17,17M1414.8,883.19l17,17m0,-17l-17,17M1415.2,883.19l17,17m0,-17l-17,17M1415.6,883.19l17,17m0,-17l-17,17M1416,883.2l17,17m0,-17l-17,17M1416.4,883.2l17,17m0,-17l-17,17M1416.8,883.2l17,17m0,-17l-17,17M1417.2,883.21l17,17m0,-17l-17,17M1417.6,883.21l17,17m0,-17l-17,17M1418,883.21l17,17m0,-17l-17,17M1418.4,883.22l17,17m0,-17l-17,17M1418.8,883.22l17,17m0,-17l-17,17M1419.2,883.22l17,17m0,-17l-17,17M1419.6,883.23l17,17m0,-17l-17,17M1420,883.23l17,17m0,-17l-17,17M1420.4,883.23l17,17m0,-17l-17,17M1420.8,883.24l17,17m0,-17l-17,17M1421.2,883.24l17,17m0,-17l-17,17M1421.6,883.24l17,17m0,-17l-17,17M1422,883.25l17,17m0,-17l-17,17M1422.4,883.25l17,17m0,-17l-17,17M1422.8,883.25l17,17m0,-17l-17,17M1423.2,883.25l17,17m0,-17l-17,17M1423.6,883.26l17,17m0,-17l-17,17M1424,883.26l17,17m0,-17l-17,17M1424.4,883.26l17,17m0,-17l-17,17M1424.8,883.27l17,17m0,-17l-17,17M1425.2,883.27l17,17m0,-17l-17,17M1425.6,883.27l17,17m0,-17l-17,17M1426,883.28l17,17m0,-17l-17,17M1426.4,883.28l17,17m0,-17l-17,17M1426.8,883.28l17,17m0,-17l-17,17M1427.2,883.29l17,17m0,-17l-17,17M1427.6,883.29l17,17m0,-17l-17,17M1428,883.29l17,17m0,-17l-17,17M1428.4,883.3l17,17m0,-17l-17,17M1428.8,883.3l17,17m0,-17l-17,17M1429.2,883.3l17,17m0,-17l-17,17M1429.6,883.31l17,17m0,-17l-17,17M1430,883.31l17,17m0,-17l-17,17M1430.4,883.31l17,17m0,-17l-17,17M1430.8,883.31l17,17m0,-17l-17,17M1431.2,883.32l17,17m0,-17l-17,17M1431.6,883.32l17,17m0,-17l-17,17M1432,883.32l17,17m0,-17l-17,17M1432.4,883.33l17,17m0,-17l-17,17M1432.8,883.33l17,17m0,-17l-17,17M1433.2,883.33l17,17m0,-17l-17,17M1433.6,883.34l17,17m0,-17l-17,17M1434,883.34l17,17m0,-17l-17,17M1434.4,883.34l17,17m0,-17l-17,17M1434.8,883.35l17,17m0,-17l-17,17M1435.2,883.35l17,17m0,-17l-17,17M1435.6,883.35l17,17m0,-17l-17,17M1436,883.35l17,17m0,-17l-17,17M1436.4,883.36l17,17m0,-17l-17,17M1436.8,883.36l17,17m0,-17l-17,17M1437.2,883.36l17,17m0,-17l-17,17M1437.6,883.37l17,17m0,-17l-17,17M1438,883.37l17,17m0,-17l-17,17M1438.4,883.37l17,17m0,-17l-17,17M1438.8,883.38l17,17m0,-17l-17,17M1439.2,883.38l17,17m0,-17l-17,17M1439.6,883.38l17,17m0,-17l-17,17M1440,883.39l17,17m0,-17l-17,17M1440.4,883.39l17,17m0,-17l-17,17M1440.8,883.39l17,17m0,-17l-17,17M1441.2,883.39l17,17m0,-17l-17,17M1441.6,883.4l17,17m0,-17l-17,17M1442,883.4l17,17m0,-17l-17,17M1442.4,883.4l17,17m0,-17l-17,17M1442.8,883.41l17,17m0,-17l-17,17M1443.2,883.41l17,17m0,-17l-17,17M1443.6,883.41l17,17m0,-17l-17,17M1444,883.42l17,17m0,-17l-17,17M1444.4,883.42l17,17m0,-17l-17,17M1444.8,883.42l17,17m0,-17l-17,17M1445.2,883.43l17,17m0,-17l-17,17M1445.6,883.43l17,17m0,-17l-17,17M1446,883.43l17,17m0,-17l-17,17M1446.4,883.43l17,17m0,-17l-17,17M1446.8,883.44l17,17m0,-17l-17,17M1447.2,883.44l17,17m0,-17l-17,17M1447.6,883.44l17,17m0,-17l-17,17M1448,883.45l17,17m0,-17l-17,17M1448.4,883.45l17,17m0,-17l-17,17M1448.8,883.45l17,17m0,-17l-17,17M1449.2,883.46l17,17m0,-17l-17,17M1449.6,883.46l17,17m0,-17l-17,17M1450,883.46l17,17m0,-17l-17,17M1450.4,883.46l17,17m0,-17l-17,17M1450.8,883.47l17,17m0,-17l-17,17M1451.2,883.47l17,17m0,-17l-17,17M1451.6,883.47l17,17m0,-17l-17,17M1452,883.48l17,17m0,-17l-17,17M1452.4,883.48l17,17m0,-17l-17,17M1452.8,883.48l17,17m0,-17l-17,17M1453.2,883.49l17,17m0,-17l-17,17M1453.6,883.49l17,17m0,-17l-17,17M1454,883.49l17,17m0,-17l-17,17M1454.4,883.49l17,17m0,-17l-17,17M1454.8,883.5l17,17m0,-17l-17,17M1455.2,883.5l17,17m0,-17l-17,17M1455.6,883.5l17,17m0,-17l-17,17M1456,883.51l17,17m0,-17l-17,17M1456.4,883.51l17,17m0,-17l-17,17M1456.8,883.51l17,17m0,-17l-17,17M1457.2,883.52l17,17m0,-17l-17,17M1457.6,883.52l17,17m0,-17l-17,17M1458,883.52l17,17m0,-17l-17,17M1458.4,883.52l17,17m0,-17l-17,17M1458.8,883.53l17,17m0,-17l-17,17M1459.2,883.53l17,17m0,-17l-17,17M1459.6,883.53l17,17m0,-17l-17,17M1460,883.54l17,17m0,-17l-17,17M1460.4,883.54l17,17m0,-17l-17,17M1460.8,883.54l17,17m0,-17l-17,17M1461.2,883.55l17,17m0,-17l-17,17M1461.6,883.55l17,17m0,-17l-17,17M1462,883.55l17,17m0,-17l-17,17M1462.4,883.55l17,17m0,-17l-17,17M1462.8,883.56l17,17m0,-17l-17,17M1463.2,883.56l17,17m0,-17l-17,17M1463.6,883.56l17,17m0,-17l-17,17M1464,883.57l17,17m0,-17l-17,17M1464.4,883.57l17,17m0,-17l-17,17M1464.8,883.57l17,17m0,-17l-17,17M1465.2,883.57l17,17m0,-17l-17,17M1465.6,883.58l17,17m0,-17l-17,17M1466,883.58l17,17m0,-17l-17,17M1466.4,883.58l17,17m0,-17l-17,17M1466.8,883.59l17,17m0,-17l-17,17M1467.2,883.59l17,17m0,-17l-17,17M1467.6,883.59l17,17m0,-17l-17,17M1468,883.6l17,17m0,-17l-17,17M1468.4,883.6l17,17m0,-17l-17,17M1468.8,883.6l17,17m0,-17l-17,17M1469.2,883.6l17,17m0,-17l-17,17M1469.6,883.61l17,17m0,-17l-17,17M1470,883.61l17,17m0,-17l-17,17M1470.4,883.61l17,17m0,-17l-17,17M1470.8,883.62l17,17m0,-17l-17,17M1471.2,883.62l17,17m0,-17l-17,17M1471.6,883.62l17,17m0,-17l-17,17M1472,883.62l17,17m0,-17l-17,17M1472.4,883.63l17,17m0,-17l-17,17M1472.8,883.63l17,17m0,-17l-17,17M1473.2,883.63l17,17m0,-17l-17,17M1473.6,883.64l17,17m0,-17l-17,17M1474,883.64l17,17m0,-17l-17,17M1474.4,883.64l17,17m0,-17l-17,17M1474.8,883.64l17,17m0,-17l-17,17M1475.2,883.65l17,17m0,-17l-17,17M1475.6,883.65l17,17m0,-17l-17,17M1476,883.65l17,17m0,-17l-17,17M1476.4,883.66l17,17m0,-17l-17,17M1476.8,883.66l17,17m0,-17l-17,17M1477.2,883.66l17,17m0,-17l-17,17M1477.6,883.66l17,17m0,-17l-17,17M1478,883.67l17,17m0,-17l-17,17M1478.4,883.67l17,17m0,-17l-17,17M1478.8,883.67l17,17m0,-17l-17,17M1479.2,883.68l17,17m0,-17l-17,17M1479.6,883.68l17,17m0,-17l-17,17M1480,883.68l17,17m0,-17l-17,17M1480.4,883.68l17,17m0,-17l-17,17M1480.8,883.69l17,17m0,-17l-17,17M1481.2,883.69l17,17m0,-17l-17,17M1481.6,883.69l17,17m0,-17l-17,17M1482,883.7l17,17m0,-17l-17,17M1482.4,883.7l17,17m0,-17l-17,17M1482.8,883.7l17,17m0,-17l-17,17M1483.2,883.7l17,17m0,-17l-17,17M1483.6,883.71l17,17m0,-17l-17,17M1484,883.71l17,17m0,-17l-17,17M1484.4,883.71l17,17m0,-17l-17,17M1484.8,883.72l17,17m0,-17l-17,17M1485.2,883.72l17,17m0,-17l-17,17M1485.6,883.72l17,17m0,-17l-17,17M1486,883.72l17,17m0,-17l-17,17M1486.4,883.73l17,17m0,-17l-17,17M1486.8,883.73l17,17m0,-17l-17,17M1487.2,883.73l17,17m0,-17l-17,17M1487.6,883.74l17,17m0,-17l-17,17M1488,883.74l17,17m0,-17l-17,17M1488.4,883.74l17,17m0,-17l-17,17M1488.8,883.74l17,17m0,-17l-17,17M1489.2,883.75l17,17m0,-17l-17,17M1489.6,883.75l17,17m0,-17l-17,17M1490,883.75l17,17m0,-17l-17,17M1490.4,883.76l17,17m0,-17l-17,17M1490.8,883.76l17,17m0,-17l-17,17M1491.2,883.76l17,17m0,-17l-17,17M1491.6,883.76l17,17m0,-17l-17,17M1492,883.77l17,17m0,-17l-17,17M1492.4,883.77l17,17m0,-17l-17,17M1492.8,883.77l17,17m0,-17l-17,17M1493.2,883.78l17,17m0,-17l-17,17M1493.6,883.78l17,17m0,-17l-17,17M1494,883.78l17,17m0,-17l-17,17M1494.4,883.78l17,17m0,-17l-17,17M1494.8,883.79l17,17m0,-17l-17,17M1495.2,883.79l17,17m0,-17l-17,17M1495.6,883.79l17,17m0,-17l-17,17M1496,883.79l17,17m0,-17l-17,17M1496.4,883.8l17,17m0,-17l-17,17M1496.8,883.8l17,17m0,-17l-17,17M1497.2,883.8l17,17m0,-17l-17,17M1497.6,883.81l17,17m0,-17l-17,17M1498,883.81l17,17m0,-17l-17,17M1498.4,883.81l17,17m0,-17l-17,17M1498.8,883.81l17,17m0,-17l-17,17M1499.2,883.82l17,17m0,-17l-17,17M1499.6,883.82l17,17m0,-17l-17,17M1500,883.82l17,17m0,-17l-17,17M1500.4,883.82l17,17m0,-17l-17,17M1500.8,883.83l17,17m0,-17l-17,17M1501.2,883.83l17,17m0,-17l-17,17M1501.6,883.83l17,17m0,-17l-17,17M1502,883.84l17,17m0,-17l-17,17M1502.4,883.84l17,17m0,-17l-17,17M1502.8,883.84l17,17m0,-17l-17,17M1503.2,883.84l17,17m0,-17l-17,17M1503.6,883.85l17,17m0,-17l-17,17M1504,883.85l17,17m0,-17l-17,17M1504.4,883.85l17,17m0,-17l-17,17M1504.8,883.85l17,17m0,-17l-17,17M1505.2,883.86l17,17m0,-17l-17,17M1505.6,883.86l17,17m0,-17l-17,17M1506,883.86l17,17m0,-17l-17,17M1506.4,883.87l17,17m0,-17l-17,17M1506.8,883.87l17,17m0,-17l-17,17M1507.2,883.87l17,17m0,-17l-17,17M1507.6,883.87l17,17m0,-17l-17,17M1508,883.88l17,17m0,-17l-17,17M1508.4,883.88l17,17m0,-17l-17,17M1508.8,883.88l17,17m0,-17l-17,17M1509.2,883.88l17,17m0,-17l-17,17M1509.6,883.89l17,17m0,-17l-17,17M1510,883.89l17,17m0,-17l-17,17M1510.4,883.89l17,17m0,-17l-17,17M1510.8,883.9l17,17m0,-17l-17,17M1511.2,883.9l17,17m0,-17l-17,17M1511.6,883.9l17,17m0,-17l-17,17M1512,883.9l17,17m0,-17l-17,17M1512.4,883.91l17,17m0,-17l-17,17" fill="none" stroke="#ff0000" stroke-width="2.6"/>
<g fill="none" stroke="#ff0000" stroke-width="2.6" stroke-opacity="0.55">
<path d="M1078.4,742l17,17"/><path d="M1095.4,742l-17,17"/>
<path d="M1078.8,734.77l17,17"/><path d="M1095.8,734.77l-17,17"/>
<path d="M1079.2,728.4l17,17"/><path d="M1096.2,728.4l-17,17"/>
<path d="M1079.6,723.57l17,17"/><path d="M1096.6,723.57l-17,17"/>
<path d="M1080,720.44l17,17"/><path d="M1097,720.44l-17,17"/>
<path d="M1080.4,718.03l17,17"/><path d="M1097.4,718.03l-17,17"/>
<path d="M1080.8,716.01l17,17"/><path d="M1097.8,716.01l-17,17"/>
<path d="M1081.2,714.24l17,17"/><path d="M1098.2,714.24l-17,17"/>
<path d="M1211.6,788.97l17,17"/><path d="M1228.6,788.97l-17,17"/>
<path d="M1212,790.64l17,17"/><path d="M1229,790.64l-17,17"/>
<path d="M1212.4,792.38l17,17"/><path d="M1229.4,792.38l-17,17"/>
<path d="M1212.8,794.21l17,17"/><path d="M1229.8,794.21l-17,17"/>
<path d="M1213.2,796.15l17,17"/><path d="M1230.2,796.15l-17,17"/>
<path d="M1213.6,798.19l17,17"/><path d="M1230.6,798.19l-17,17"/>
<path d="M1214,800.31l17,17"/><path d="M1231,800.31l-17,17"/>
<path d="M1214.4,802.52l17,17"/><path d="M1231.4,802.52l-17,17"/>
<path d="M1214.8,804.82l17,17"/><path d="M1231.8,804.82l-17,17"/>
<path d="M1215.2,807.19l17,17"/><path d="M1232.2,807.19l-17,17"/>
<path d="M1215.6,809.63l17,17"/><path d="M1232.6,809.63l-17,17"/>
<path d="M1216,812.14l17,17"/><path d="M1233,812.14l-17,17"/>
<path d="M1216.4,814.85l17,17"/><path d="M1233.4,814.85l-17,17"/>
<path d="M1216.8,817.75l17,17"/><path d="M1233.8,817.75l-17,17"/>
<path d="M1217.2,820.79l17,17"/><path d="M1234.2,820.79l-17,17"/>
<path d="M1217.6,823.89l17,17"/><path d="M1234.6,823.89l-17,17"/>
<path d="M1218,826.99l17,17"/><path d="M1235,826.99l-17,17"/>
<path d="M1218.4,830.03l17,17"/><path d="M1235.4,830.03l-17,17"/>
<path d="M1218.8,832.95l17,17"/><path d="M1235.8,832.95l-17,17"/>
<path d="M1219.2,835.83l17,17"/><path d="M1236.2,835.83l-17,17"/>
<path d="M1219.6,838.7l17,17"/><path d="M1236.6,838.7l-17,17"/>
<path d="M1220,841.55l17,17"/><path d="M1237,841.55l-17,17"/>
<path d="M1220.4,844.39l17,17"/><path d="M1237.4,844.39l-17,17"/>
<path d="M1220.8,847.23l17,17"/><path d="M1237.8,847.23l-17,17"/>
<path d="M1221.2,850.07l17,17"/><path d="M1238.2,850.07l-17,17"/>
<path d="M1221.6,852.96l17,17"/><path d="M1238.6,852.96l-17,17"/>
<path d="M1222,856.01l17,17"/><path d="M1239,856.01l-17,17"/>
<path d="M1222.4,859.1l17,17"/><path d="M1239.4,859.1l-17,17"/>
<path d="M1222.8,862.07l17,17"/><path d="M1239.8,862.07l-17,17"/>
<path d="M1223.2,864.76l17,17"/><path d="M1240.2,864.76l-17,17"/>
<path d="M1223.6,867.03l17,17"/><path d="M1240.6,867.03l-17,17"/>
<path d="M1224,869.08l17,17"/><path d="M1241,869.08l-17,17"/>
<path d="M1224.4,870.91l17,17"/><path d="M1241.4,870.91l-17,17"/>
</g>
</g>
<polyline points="1269.6,712.9 1263,713.3 1257.3,714.5 1251,717 1245,720.3 1239.5,723.5 1234.4,727.6 1231.5,731.5 1229.5,735.8 1227.5,740" fill="none" stroke="#ff0000" stroke-width="4.4" stroke-linecap="round" stroke-linejoin="round"/>
<polygon points="1216.8,736.5 1237.4,744 1219.7,760.6" fill="#ff0000"/>
<polyline points="1174,966.9 1166,963.2 1158,958.9 1153.5,955 1149.4,950.9 1145.2,946.6 1142.5,941.5 1141.3,937 1140.5,931" fill="none" stroke="#0000ff" stroke-width="4.6" stroke-linecap="round" stroke-linejoin="round"/>
<polygon points="1135,909.8 1128.3,933.4 1151.3,928.5" fill="#0000ff"/>
<path d="M171.2,502.4 V65 H1514 V502.4" fill="none" stroke="#000" stroke-width="3.6" stroke-linejoin="miter"/>
<path d="M169.4,502.4 H830.95 M854.55,502.4 H1515.8" fill="none" stroke="#000" stroke-width="3.6"/>
<line x1="820.75" y1="519.4" x2="841.15" y2="485.4" stroke="#000" stroke-width="3.2" stroke-linecap="round"/>
<line x1="844.35" y1="519.4" x2="864.75" y2="485.4" stroke="#000" stroke-width="3.2" stroke-linecap="round"/>
<path d="M171.2,65 H153.2 M171.2,127.49 H153.2 M171.2,189.97 H153.2 M171.2,252.46 H153.2 M171.2,314.94 H153.2 M171.2,377.43 H153.2 M171.2,439.92 H153.2 M171.2,502.4 H153.2 M171.2,96.24 H161.7 M171.2,158.73 H161.7 M171.2,221.21 H161.7 M171.2,283.7 H161.7 M171.2,346.19 H161.7 M171.2,408.67 H161.7 M171.2,471.16 H161.7 M171.2,502.4 V520.4 M303.15,502.4 V520.4 M435.1,502.4 V520.4 M567.05,502.4 V520.4 M699,502.4 V520.4 M237.17,502.4 V511.9 M369.12,502.4 V511.9 M501.07,502.4 V511.9 M633.03,502.4 V511.9 M764.97,502.4 V511.9 M986.5,502.4 V520.4 M1118.45,502.4 V520.4 M1250.4,502.4 V520.4 M1382.35,502.4 V520.4 M1514.3,502.4 V520.4 M920.53,502.4 V511.9 M1052.48,502.4 V511.9 M1184.43,502.4 V511.9 M1316.38,502.4 V511.9 M1448.33,502.4 V511.9" fill="none" stroke="#000" stroke-width="3.6" stroke-linecap="butt"/>
<text x="141" y="76.2" text-anchor="end" font-size="40.2">-0.2</text>
<text x="141" y="138.69" text-anchor="end" font-size="40.2">-0.4</text>
<text x="141" y="201.17" text-anchor="end" font-size="40.2">-0.6</text>
<text x="141" y="263.66" text-anchor="end" font-size="40.2">-0.8</text>
<text x="141" y="326.14" text-anchor="end" font-size="40.2">-1</text>
<text x="141" y="388.63" text-anchor="end" font-size="40.2">-1.2</text>
<text x="141" y="451.12" text-anchor="end" font-size="40.2">-1.4</text>
<text x="141" y="513.6" text-anchor="end" font-size="40.2">-1.6</text>
<text x="171.2" y="563.3" text-anchor="middle" font-size="40.2">0</text>
<text x="303.15" y="563.3" text-anchor="middle" font-size="40.2">0.01</text>
<text x="435.1" y="563.3" text-anchor="middle" font-size="40.2">0.02</text>
<text x="567.05" y="563.3" text-anchor="middle" font-size="40.2">0.03</text>
<text x="699" y="563.3" text-anchor="middle" font-size="40.2">0.04</text>
<text x="986.5" y="563.3" text-anchor="middle" font-size="40.2">12.02</text>
<text x="1118.45" y="563.3" text-anchor="middle" font-size="40.2">12.03</text>
<text x="1250.4" y="563.3" text-anchor="middle" font-size="40.2">12.04</text>
<text x="1382.35" y="563.3" text-anchor="middle" font-size="40.2">12.05</text>
<text x="1514.3" y="563.3" text-anchor="middle" font-size="40.2">12.06</text>
<text x="793.5" y="615" font-size="43" letter-spacing="0.58"><tspan font-style="italic">t</tspan> (hr)</text>
<path d="M168.8,1112.4 V674 H1511.1 V1112.4" fill="none" stroke="#000" stroke-width="3.6" stroke-linejoin="miter"/>
<path d="M167,1112.4 H828.55 M851.95,1112.4 H1512.9" fill="none" stroke="#000" stroke-width="3.6"/>
<line x1="818.35" y1="1129.4" x2="838.75" y2="1095.4" stroke="#000" stroke-width="3.2" stroke-linecap="round"/>
<line x1="841.75" y1="1129.4" x2="862.15" y2="1095.4" stroke="#000" stroke-width="3.2" stroke-linecap="round"/>
<path d="M168.8,674 H150.8 M168.8,728.8 H150.8 M168.8,783.6 H150.8 M168.8,838.4 H150.8 M168.8,893.2 H150.8 M168.8,948 H150.8 M168.8,1002.8 H150.8 M168.8,1057.6 H150.8 M168.8,1112.4 H150.8 M168.8,701.4 H159.3 M168.8,756.2 H159.3 M168.8,811 H159.3 M168.8,865.8 H159.3 M168.8,920.6 H159.3 M168.8,975.4 H159.3 M168.8,1030.2 H159.3 M168.8,1085 H159.3 M168.8,1112.4 V1130.4 M300.75,1112.4 V1130.4 M432.7,1112.4 V1130.4 M564.65,1112.4 V1130.4 M696.6,1112.4 V1130.4 M234.78,1112.4 V1121.9 M366.73,1112.4 V1121.9 M498.68,1112.4 V1121.9 M630.62,1112.4 V1121.9 M762.58,1112.4 V1121.9 M983.9,1112.4 V1130.4 M1115.85,1112.4 V1130.4 M1247.8,1112.4 V1130.4 M1379.75,1112.4 V1130.4 M1511.7,1112.4 V1130.4 M917.93,1112.4 V1121.9 M1049.88,1112.4 V1121.9 M1181.83,1112.4 V1121.9 M1313.78,1112.4 V1121.9 M1445.73,1112.4 V1121.9" fill="none" stroke="#000" stroke-width="3.6" stroke-linecap="butt"/>
<text x="139" y="685.2" text-anchor="end" font-size="40.2">60</text>
<text x="139" y="740" text-anchor="end" font-size="40.2">45</text>
<text x="139" y="794.8" text-anchor="end" font-size="40.2">30</text>
<text x="139" y="849.6" text-anchor="end" font-size="40.2">15</text>
<text x="139" y="904.4" text-anchor="end" font-size="40.2">0</text>
<text x="139" y="959.2" text-anchor="end" font-size="40.2">-15</text>
<text x="139" y="1014" text-anchor="end" font-size="40.2">-30</text>
<text x="139" y="1068.8" text-anchor="end" font-size="40.2">-45</text>
<text x="139" y="1123.6" text-anchor="end" font-size="40.2">-60</text>
<text x="168.8" y="1172.5" text-anchor="middle" font-size="40.2">0</text>
<text x="300.75" y="1172.5" text-anchor="middle" font-size="40.2">0.01</text>
<text x="432.7" y="1172.5" text-anchor="middle" font-size="40.2">0.02</text>
<text x="564.65" y="1172.5" text-anchor="middle" font-size="40.2">0.03</text>
<text x="696.6" y="1172.5" text-anchor="middle" font-size="40.2">0.04</text>
<text x="983.9" y="1172.5" text-anchor="middle" font-size="40.2">12.02</text>
<text x="1115.85" y="1172.5" text-anchor="middle" font-size="40.2">12.03</text>
<text x="1247.8" y="1172.5" text-anchor="middle" font-size="40.2">12.04</text>
<text x="1379.75" y="1172.5" text-anchor="middle" font-size="40.2">12.05</text>
<text x="1511.7" y="1172.5" text-anchor="middle" font-size="40.2">12.06</text>
<text x="794" y="1211.6" font-size="43" letter-spacing="0.58"><tspan font-style="italic">t</tspan> (hr)</text>
<text x="246.9" y="32.3" font-size="43" letter-spacing="0.66" fill="#0a6a2e" font-weight="bold">Deposition</text>
<text x="718.7" y="32.3" font-size="43" letter-spacing="0.56" font-weight="bold">Corrosion</text>
<text x="1213.5" y="33.4" font-size="43" letter-spacing="0.46" fill="#2b4fa0" font-weight="bold">Stripping</text>
<text transform="translate(41,471) rotate(-90)" font-size="43" letter-spacing="0.56"><tspan font-style="italic">E</tspan> (V vs. Ag/AgCl)</text>
<text transform="translate(37.5,1021) rotate(-90)" font-size="43" letter-spacing="0.84"><tspan font-style="italic">i</tspan> (mA/cm<tspan font-size="28" dy="-16">2</tspan><tspan dy="16">)</tspan></text>
<text x="847" y="161.7" font-size="41.5" letter-spacing="1.35" fill="#2d14f5">No Additive</text>
<text x="562.7" y="267" font-size="41.5" letter-spacing="1.38" fill="#ff0000">10 µM BDAC</text>
<text x="1287.6" y="729.9" font-size="42" fill="#ff0000">79.8%</text>
<text x="1283.7" y="782.3" font-size="42" letter-spacing="0.54" fill="#ff0000">capacity</text>
<text x="1283.4" y="835.1" font-size="42" letter-spacing="1.2" fill="#ff0000">retained</text>
<text x="1188.2" y="988.1" font-size="42" letter-spacing="0.99" fill="#0000ff">no capacity</text>
<text x="1188.2" y="1038.6" font-size="42" letter-spacing="1.2" fill="#0000ff">retained</text>
</svg></body></html>
